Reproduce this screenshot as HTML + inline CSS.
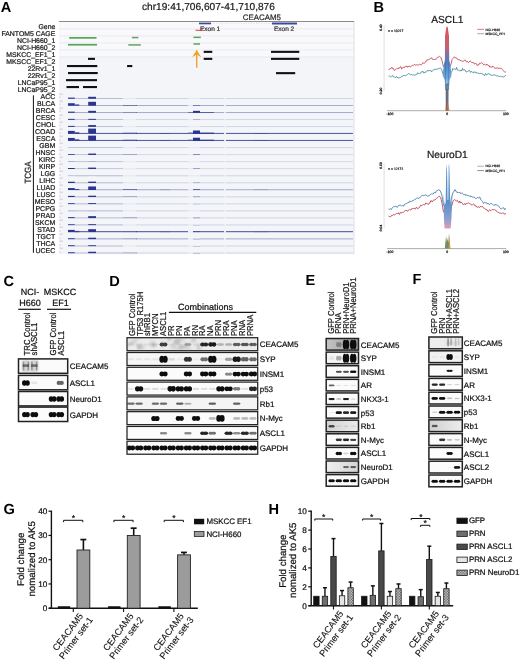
<!DOCTYPE html>
<html><head><meta charset="utf-8"><title>Figure</title>
<style>html,body{margin:0;padding:0;background:#fff;}svg{display:block;text-rendering:geometricPrecision;}</style></head>
<body><svg width="520" height="662" viewBox="0 0 520 662" font-family='"Liberation Sans", Arial, Helvetica, sans-serif'>
<rect width="520" height="662" fill="#fff"/>
<text transform="translate(0.8 12.3)" font-size="14.6" font-weight="bold" fill="#000">A</text>
<text transform="translate(373.4 12.4)" font-size="14.6" font-weight="bold" fill="#000">B</text>
<text transform="translate(3.4 285.6)" font-size="14.6" font-weight="bold" fill="#000">C</text>
<text transform="translate(109.2 285.5)" font-size="14.6" font-weight="bold" fill="#000">D</text>
<text transform="translate(305.4 285)" font-size="14.6" font-weight="bold" fill="#000">E</text>
<text transform="translate(412.4 284.3)" font-size="14.6" font-weight="bold" fill="#000">F</text>
<text transform="translate(3.4 514)" font-size="14.6" font-weight="bold" fill="#000">G</text>
<text transform="translate(268.6 514)" font-size="14.6" font-weight="bold" fill="#000">H</text>
<rect x="59" y="21.5" width="295" height="232.74" fill="#f9f9fc"/>
<rect x="59" y="56.68" width="295" height="197.56" fill="#f4f5f9"/>
<line x1="59" y1="28.9" x2="354" y2="28.9" stroke="#e4e5ec" stroke-width="0.7"/>
<line x1="59" y1="35.92" x2="354" y2="35.92" stroke="#e4e5ec" stroke-width="0.7"/>
<line x1="59" y1="42.94" x2="354" y2="42.94" stroke="#e4e5ec" stroke-width="0.7"/>
<line x1="59" y1="49.96" x2="354" y2="49.96" stroke="#e4e5ec" stroke-width="0.7"/>
<line x1="59" y1="56.98" x2="354" y2="56.98" stroke="#e4e5ec" stroke-width="0.7"/>
<line x1="354" y1="21.5" x2="354" y2="254.24" stroke="#d8d8de" stroke-width="0.8"/>
<line x1="59" y1="21.5" x2="354" y2="21.5" stroke="#8a8a8a" stroke-width="1.1"/>
<text x="142" y="10.4" font-size="10.15" fill="#1a1a1a" stroke="#1a1a1a" stroke-width="0.22">chr19:41,706,607-41,710,876</text>
<text x="242.8" y="19.7" font-size="7.9" fill="#2a2a2a" stroke="#2a2a2a" stroke-width="0.22">CEACAM5</text>
<line x1="211" y1="23.4" x2="272" y2="23.4" stroke="#c4c6d4" stroke-width="0.5" stroke-dasharray="1 1.5"/>
<rect x="199" y="22.6" width="12" height="1.7" fill="#3b4a9c"/>
<rect x="272" y="22.5" width="25" height="2" fill="#3b4a9c"/>
<text x="200" y="30.7" font-size="6.5" fill="#333" stroke="#333" stroke-width="0.22">Exon 1</text>
<text x="274" y="30.7" font-size="6.5" fill="#333" stroke="#333" stroke-width="0.22">Exon 2</text>
<line x1="195.5" y1="30.3" x2="202" y2="30.3" stroke="#d03030" stroke-width="0.9"/>
<line x1="202" y1="28.3" x2="202" y2="30.5" stroke="#d03030" stroke-width="0.8"/>
<text x="55.3" y="28.6" font-size="6.9" text-anchor="end" fill="#1a1a1a" stroke="#1a1a1a" stroke-width="0.22">Gene</text>
<text x="55.3" y="35.62" font-size="6.9" text-anchor="end" fill="#1a1a1a" stroke="#1a1a1a" stroke-width="0.22">FANTOM5 CAGE</text>
<text x="55.3" y="42.64" font-size="6.9" text-anchor="end" fill="#1a1a1a" stroke="#1a1a1a" stroke-width="0.22">NCI-H660_1</text>
<text x="55.3" y="49.66" font-size="6.9" text-anchor="end" fill="#1a1a1a" stroke="#1a1a1a" stroke-width="0.22">NCI-H660_2</text>
<text x="55.3" y="56.68" font-size="6.9" text-anchor="end" fill="#1a1a1a" stroke="#1a1a1a" stroke-width="0.22">MSKCC_EF1_1</text>
<text x="55.3" y="63.7" font-size="6.9" text-anchor="end" fill="#1a1a1a" stroke="#1a1a1a" stroke-width="0.22">MKSCC_EF1_2</text>
<text x="55.3" y="70.72" font-size="6.9" text-anchor="end" fill="#1a1a1a" stroke="#1a1a1a" stroke-width="0.22">22Rv1_1</text>
<text x="55.3" y="77.74" font-size="6.9" text-anchor="end" fill="#1a1a1a" stroke="#1a1a1a" stroke-width="0.22">22Rv1_2</text>
<text x="55.3" y="84.76" font-size="6.9" text-anchor="end" fill="#1a1a1a" stroke="#1a1a1a" stroke-width="0.22">LNCaP95_1</text>
<text x="55.3" y="91.78" font-size="6.9" text-anchor="end" fill="#1a1a1a" stroke="#1a1a1a" stroke-width="0.22">LNCaP95_2</text>
<text x="55.3" y="98.8" font-size="7" text-anchor="end" fill="#1a1a1a" stroke="#1a1a1a" stroke-width="0.22">ACC</text>
<text x="55.3" y="105.82" font-size="7" text-anchor="end" fill="#1a1a1a" stroke="#1a1a1a" stroke-width="0.22">BLCA</text>
<text x="55.3" y="112.84" font-size="7" text-anchor="end" fill="#1a1a1a" stroke="#1a1a1a" stroke-width="0.22">BRCA</text>
<text x="55.3" y="119.86" font-size="7" text-anchor="end" fill="#1a1a1a" stroke="#1a1a1a" stroke-width="0.22">CESC</text>
<text x="55.3" y="126.88" font-size="7" text-anchor="end" fill="#1a1a1a" stroke="#1a1a1a" stroke-width="0.22">CHOL</text>
<text x="55.3" y="133.9" font-size="7" text-anchor="end" fill="#1a1a1a" stroke="#1a1a1a" stroke-width="0.22">COAD</text>
<text x="55.3" y="140.92" font-size="7" text-anchor="end" fill="#1a1a1a" stroke="#1a1a1a" stroke-width="0.22">ESCA</text>
<text x="55.3" y="147.94" font-size="7" text-anchor="end" fill="#1a1a1a" stroke="#1a1a1a" stroke-width="0.22">GBM</text>
<text x="55.3" y="154.96" font-size="7" text-anchor="end" fill="#1a1a1a" stroke="#1a1a1a" stroke-width="0.22">HNSC</text>
<text x="55.3" y="161.98" font-size="7" text-anchor="end" fill="#1a1a1a" stroke="#1a1a1a" stroke-width="0.22">KIRC</text>
<text x="55.3" y="169" font-size="7" text-anchor="end" fill="#1a1a1a" stroke="#1a1a1a" stroke-width="0.22">KIRP</text>
<text x="55.3" y="176.02" font-size="7" text-anchor="end" fill="#1a1a1a" stroke="#1a1a1a" stroke-width="0.22">LGG</text>
<text x="55.3" y="183.04" font-size="7" text-anchor="end" fill="#1a1a1a" stroke="#1a1a1a" stroke-width="0.22">LIHC</text>
<text x="55.3" y="190.06" font-size="7" text-anchor="end" fill="#1a1a1a" stroke="#1a1a1a" stroke-width="0.22">LUAD</text>
<text x="55.3" y="197.08" font-size="7" text-anchor="end" fill="#1a1a1a" stroke="#1a1a1a" stroke-width="0.22">LUSC</text>
<text x="55.3" y="204.1" font-size="7" text-anchor="end" fill="#1a1a1a" stroke="#1a1a1a" stroke-width="0.22">MESO</text>
<text x="55.3" y="211.12" font-size="7" text-anchor="end" fill="#1a1a1a" stroke="#1a1a1a" stroke-width="0.22">PCPG</text>
<text x="55.3" y="218.14" font-size="7" text-anchor="end" fill="#1a1a1a" stroke="#1a1a1a" stroke-width="0.22">PRAD</text>
<text x="55.3" y="225.16" font-size="7" text-anchor="end" fill="#1a1a1a" stroke="#1a1a1a" stroke-width="0.22">SKCM</text>
<text x="55.3" y="232.18" font-size="7" text-anchor="end" fill="#1a1a1a" stroke="#1a1a1a" stroke-width="0.22">STAD</text>
<text x="55.3" y="239.2" font-size="7" text-anchor="end" fill="#1a1a1a" stroke="#1a1a1a" stroke-width="0.22">TGCT</text>
<text x="55.3" y="246.22" font-size="7" text-anchor="end" fill="#1a1a1a" stroke="#1a1a1a" stroke-width="0.22">THCA</text>
<text x="55.3" y="253.24" font-size="7" text-anchor="end" fill="#1a1a1a" stroke="#1a1a1a" stroke-width="0.22">UCEC</text>
<line x1="33.4" y1="95.3" x2="33.4" y2="252.8" stroke="#111" stroke-width="1"/>
<text transform="translate(30.9 172.5) rotate(-90) scale(0.885 1)" font-size="9" text-anchor="middle" fill="#222" stroke="#222" stroke-width="0.22">TCGA</text>
<rect x="69.2" y="37" width="27.3" height="1.7" fill="#5aa45a"/>
<rect x="68" y="43.9" width="29" height="1.7" fill="#5aa45a"/>
<rect x="131.9" y="36.8" width="6.5" height="1.5" fill="#6c9c6c"/>
<rect x="128.3" y="44.1" width="12.5" height="1.6" fill="#6ca86c"/>
<rect x="193.4" y="36.6" width="7.4" height="1.5" fill="#5aa45a"/>
<rect x="193.4" y="43.2" width="6.6" height="1.5" fill="#5aa45a"/>
<rect x="203.7" y="50.8" width="8.6" height="2.1" fill="#111"/>
<rect x="271" y="50.8" width="28.3" height="2.1" fill="#111"/>
<rect x="88" y="57.8" width="7" height="2.1" fill="#111"/>
<rect x="203.7" y="57.8" width="8.6" height="2.1" fill="#111"/>
<rect x="271" y="57.8" width="28.3" height="2.1" fill="#111"/>
<rect x="67" y="65" width="30.3" height="2.1" fill="#111"/>
<rect x="127.1" y="65" width="5.2" height="2.1" fill="#111"/>
<rect x="68" y="72" width="29.7" height="2.1" fill="#111"/>
<rect x="276" y="72.1" width="19.2" height="2.1" fill="#111"/>
<rect x="66" y="79.1" width="31" height="2.1" fill="#111"/>
<rect x="66.5" y="86" width="12.5" height="2.1" fill="#111"/>
<rect x="83" y="86" width="14" height="2.1" fill="#111"/>
<path d="M196.7 67.8 L196.7 53" stroke="#f2a02a" stroke-width="1.4" fill="none"/>
<path d="M192.2 57.2 L196.7 49.8 L201.2 57.2 L196.7 54.6 Z" fill="#f2a02a"/>
<text x="59.6" y="94.5" font-size="1.9" fill="#999">200</text>
<text x="59.6" y="98.4" font-size="1.9" fill="#999">0</text>
<line x1="68" y1="98.55" x2="353" y2="98.55" stroke="#d8dae6" stroke-width="0.5"/>
<line x1="74.8" y1="98.55" x2="88.2" y2="98.55" stroke="#2f3890" stroke-width="0.5" opacity="0.5"/>
<line x1="96" y1="98.55" x2="123" y2="98.55" stroke="#2f3890" stroke-width="0.5" opacity="0.5"/>
<line x1="136" y1="98.55" x2="188" y2="98.55" stroke="#2f3890" stroke-width="0.5" opacity="0.22"/>
<line x1="200" y1="98.55" x2="224" y2="98.55" stroke="#2f3890" stroke-width="0.5" opacity="0.22"/>
<line x1="226" y1="98.55" x2="353" y2="98.55" stroke="#2f3890" stroke-width="0.5" opacity="0.22"/>
<rect x="68" y="97.6" width="6.8" height="1.2" fill="#2b3590"/>
<rect x="88.2" y="96.8" width="7.8" height="2" fill="#2b3590"/>
<text x="59.6" y="101.52" font-size="1.9" fill="#999">200</text>
<text x="59.6" y="105.42" font-size="1.9" fill="#999">0</text>
<line x1="68" y1="105.57" x2="353" y2="105.57" stroke="#d8dae6" stroke-width="0.5"/>
<line x1="74.8" y1="105.47" x2="88.2" y2="105.47" stroke="#2f3890" stroke-width="0.7" opacity="0.5"/>
<line x1="96" y1="105.47" x2="123" y2="105.47" stroke="#2f3890" stroke-width="0.7" opacity="0.5"/>
<line x1="136" y1="105.47" x2="188" y2="105.47" stroke="#2f3890" stroke-width="0.7" opacity="0.5"/>
<line x1="200" y1="105.47" x2="224" y2="105.47" stroke="#2f3890" stroke-width="0.7" opacity="0.5"/>
<line x1="226" y1="105.47" x2="353" y2="105.47" stroke="#2f3890" stroke-width="0.7" opacity="0.5"/>
<rect x="68" y="103.22" width="6.8" height="2.6" fill="#2b3590"/>
<rect x="74.8" y="104.39" width="4.5" height="1.43" fill="#2b3590" opacity="0.85"/>
<rect x="88.2" y="101.82" width="7.8" height="4" fill="#2b3590"/>
<rect x="193" y="105.22" width="7" height="0.6" fill="#2b3590"/>
<rect x="123" y="105.12" width="14" height="0.7" fill="#2f3890" opacity="0.9"/>
<text x="59.6" y="108.54" font-size="1.9" fill="#999">200</text>
<text x="59.6" y="112.44" font-size="1.9" fill="#999">0</text>
<line x1="68" y1="112.59" x2="353" y2="112.59" stroke="#d8dae6" stroke-width="0.5"/>
<line x1="74.8" y1="112.49" x2="88.2" y2="112.49" stroke="#2f3890" stroke-width="0.7" opacity="0.5"/>
<line x1="96" y1="112.49" x2="123" y2="112.49" stroke="#2f3890" stroke-width="0.7" opacity="0.5"/>
<line x1="136" y1="112.49" x2="188" y2="112.49" stroke="#2f3890" stroke-width="0.7" opacity="0.5"/>
<line x1="200" y1="112.49" x2="224" y2="112.49" stroke="#2f3890" stroke-width="0.7" opacity="0.5"/>
<line x1="226" y1="112.49" x2="353" y2="112.49" stroke="#2f3890" stroke-width="0.7" opacity="0.5"/>
<rect x="68" y="111.64" width="6.8" height="1.2" fill="#2b3590"/>
<rect x="88.2" y="110.84" width="7.8" height="2" fill="#2b3590"/>
<rect x="193" y="110.84" width="7" height="2" fill="#2b3590"/>
<rect x="188" y="112.04" width="26" height="0.8" fill="#2b3590" opacity="0.8"/>
<rect x="123" y="112.14" width="14" height="0.7" fill="#2f3890" opacity="0.72"/>
<text x="59.6" y="115.56" font-size="1.9" fill="#999">200</text>
<text x="59.6" y="119.46" font-size="1.9" fill="#999">0</text>
<line x1="68" y1="119.61" x2="353" y2="119.61" stroke="#d8dae6" stroke-width="0.5"/>
<line x1="74.8" y1="119.61" x2="88.2" y2="119.61" stroke="#2f3890" stroke-width="0.5" opacity="0.5"/>
<line x1="96" y1="119.61" x2="123" y2="119.61" stroke="#2f3890" stroke-width="0.5" opacity="0.5"/>
<line x1="136" y1="119.61" x2="188" y2="119.61" stroke="#2f3890" stroke-width="0.5" opacity="0.22"/>
<line x1="200" y1="119.61" x2="224" y2="119.61" stroke="#2f3890" stroke-width="0.5" opacity="0.22"/>
<line x1="226" y1="119.61" x2="353" y2="119.61" stroke="#2f3890" stroke-width="0.5" opacity="0.22"/>
<rect x="68" y="118.86" width="6.8" height="1" fill="#2b3590"/>
<rect x="88.2" y="118.86" width="7.8" height="1" fill="#2b3590"/>
<rect x="193" y="119.56" width="7" height="0.3" fill="#2b3590"/>
<text x="59.6" y="122.58" font-size="1.9" fill="#999">200</text>
<text x="59.6" y="126.48" font-size="1.9" fill="#999">0</text>
<line x1="68" y1="126.63" x2="353" y2="126.63" stroke="#d8dae6" stroke-width="0.5"/>
<line x1="74.8" y1="126.63" x2="88.2" y2="126.63" stroke="#2f3890" stroke-width="0.5" opacity="0.5"/>
<line x1="96" y1="126.63" x2="123" y2="126.63" stroke="#2f3890" stroke-width="0.5" opacity="0.5"/>
<line x1="136" y1="126.63" x2="188" y2="126.63" stroke="#2f3890" stroke-width="0.5" opacity="0.22"/>
<line x1="200" y1="126.63" x2="224" y2="126.63" stroke="#2f3890" stroke-width="0.5" opacity="0.22"/>
<line x1="226" y1="126.63" x2="353" y2="126.63" stroke="#2f3890" stroke-width="0.5" opacity="0.22"/>
<rect x="68" y="125.88" width="6.8" height="1" fill="#2b3590"/>
<rect x="88.2" y="125.08" width="7.8" height="1.8" fill="#2b3590"/>
<text x="59.6" y="129.6" font-size="1.9" fill="#999">200</text>
<text x="59.6" y="133.5" font-size="1.9" fill="#999">0</text>
<line x1="68" y1="133.65" x2="353" y2="133.65" stroke="#d8dae6" stroke-width="0.5"/>
<line x1="74.8" y1="133.4" x2="88.2" y2="133.4" stroke="#2f3890" stroke-width="1" opacity="0.85"/>
<line x1="96" y1="133.4" x2="123" y2="133.4" stroke="#2f3890" stroke-width="1" opacity="0.85"/>
<line x1="136" y1="133.4" x2="188" y2="133.4" stroke="#2f3890" stroke-width="1" opacity="0.85"/>
<line x1="200" y1="133.4" x2="224" y2="133.4" stroke="#2f3890" stroke-width="1" opacity="0.85"/>
<line x1="226" y1="133.4" x2="353" y2="133.4" stroke="#2f3890" stroke-width="1" opacity="0.85"/>
<rect x="68" y="130.9" width="6.8" height="3" fill="#2b3590"/>
<rect x="74.8" y="132.25" width="4.5" height="1.65" fill="#2b3590" opacity="0.85"/>
<rect x="88.2" y="128.6" width="7.8" height="5.3" fill="#2b3590"/>
<rect x="193" y="130.5" width="7" height="3.4" fill="#2b3590"/>
<rect x="188" y="132.54" width="26" height="1.36" fill="#2b3590" opacity="0.8"/>
<rect x="123" y="132.7" width="14" height="1.2" fill="#2f3890" opacity="0.9"/>
<rect x="160" y="133.2" width="10" height="0.7" fill="#2f3890" opacity="0.45"/>
<rect x="254" y="133.3" width="14" height="0.6" fill="#2f3890" opacity="0.45"/>
<text x="59.6" y="136.62" font-size="1.9" fill="#999">200</text>
<text x="59.6" y="140.52" font-size="1.9" fill="#999">0</text>
<line x1="68" y1="140.67" x2="353" y2="140.67" stroke="#d8dae6" stroke-width="0.5"/>
<line x1="74.8" y1="140.42" x2="88.2" y2="140.42" stroke="#2f3890" stroke-width="1" opacity="0.85"/>
<line x1="96" y1="140.42" x2="123" y2="140.42" stroke="#2f3890" stroke-width="1" opacity="0.85"/>
<line x1="136" y1="140.42" x2="188" y2="140.42" stroke="#2f3890" stroke-width="1" opacity="0.85"/>
<line x1="200" y1="140.42" x2="224" y2="140.42" stroke="#2f3890" stroke-width="1" opacity="0.85"/>
<line x1="226" y1="140.42" x2="353" y2="140.42" stroke="#2f3890" stroke-width="1" opacity="0.85"/>
<rect x="68" y="137.92" width="6.8" height="3" fill="#2b3590"/>
<rect x="74.8" y="139.27" width="4.5" height="1.65" fill="#2b3590" opacity="0.85"/>
<rect x="88.2" y="135.62" width="7.8" height="5.3" fill="#2b3590"/>
<rect x="193" y="137.72" width="7" height="3.2" fill="#2b3590"/>
<rect x="188" y="139.64" width="26" height="1.28" fill="#2b3590" opacity="0.8"/>
<rect x="123" y="139.72" width="14" height="1.2" fill="#2f3890" opacity="0.9"/>
<rect x="160" y="140.22" width="10" height="0.7" fill="#2f3890" opacity="0.45"/>
<rect x="254" y="140.32" width="14" height="0.6" fill="#2f3890" opacity="0.45"/>
<text x="59.6" y="143.64" font-size="1.9" fill="#999">200</text>
<text x="59.6" y="147.54" font-size="1.9" fill="#999">0</text>
<line x1="68" y1="147.69" x2="353" y2="147.69" stroke="#d8dae6" stroke-width="0.5"/>
<line x1="74.8" y1="147.69" x2="88.2" y2="147.69" stroke="#2f3890" stroke-width="0.5" opacity="0.5"/>
<line x1="96" y1="147.69" x2="123" y2="147.69" stroke="#2f3890" stroke-width="0.5" opacity="0.5"/>
<line x1="136" y1="147.69" x2="188" y2="147.69" stroke="#2f3890" stroke-width="0.5" opacity="0.22"/>
<line x1="200" y1="147.69" x2="224" y2="147.69" stroke="#2f3890" stroke-width="0.5" opacity="0.22"/>
<line x1="226" y1="147.69" x2="353" y2="147.69" stroke="#2f3890" stroke-width="0.5" opacity="0.22"/>
<rect x="68" y="147.74" width="6.8" height="0.2" fill="#2b3590"/>
<rect x="88.2" y="147.74" width="7.8" height="0.2" fill="#2b3590"/>
<text x="59.6" y="150.66" font-size="1.9" fill="#999">200</text>
<text x="59.6" y="154.56" font-size="1.9" fill="#999">0</text>
<line x1="68" y1="154.71" x2="353" y2="154.71" stroke="#d8dae6" stroke-width="0.5"/>
<line x1="74.8" y1="154.71" x2="88.2" y2="154.71" stroke="#2f3890" stroke-width="0.5" opacity="0.5"/>
<line x1="96" y1="154.71" x2="123" y2="154.71" stroke="#2f3890" stroke-width="0.5" opacity="0.5"/>
<line x1="136" y1="154.71" x2="188" y2="154.71" stroke="#2f3890" stroke-width="0.5" opacity="0.22"/>
<line x1="200" y1="154.71" x2="224" y2="154.71" stroke="#2f3890" stroke-width="0.5" opacity="0.22"/>
<line x1="226" y1="154.71" x2="353" y2="154.71" stroke="#2f3890" stroke-width="0.5" opacity="0.22"/>
<rect x="68" y="154.16" width="6.8" height="0.8" fill="#2b3590"/>
<rect x="88.2" y="153.56" width="7.8" height="1.4" fill="#2b3590"/>
<rect x="193" y="154.46" width="7" height="0.5" fill="#2b3590"/>
<rect x="123" y="154.36" width="14" height="0.6" fill="#2f3890" opacity="0.62"/>
<text x="59.6" y="157.68" font-size="1.9" fill="#999">200</text>
<text x="59.6" y="161.58" font-size="1.9" fill="#999">0</text>
<line x1="68" y1="161.73" x2="353" y2="161.73" stroke="#d8dae6" stroke-width="0.5"/>
<line x1="74.8" y1="161.73" x2="88.2" y2="161.73" stroke="#2f3890" stroke-width="0.5" opacity="0.5"/>
<line x1="96" y1="161.73" x2="123" y2="161.73" stroke="#2f3890" stroke-width="0.5" opacity="0.5"/>
<line x1="136" y1="161.73" x2="188" y2="161.73" stroke="#2f3890" stroke-width="0.5" opacity="0.22"/>
<line x1="200" y1="161.73" x2="224" y2="161.73" stroke="#2f3890" stroke-width="0.5" opacity="0.22"/>
<line x1="226" y1="161.73" x2="353" y2="161.73" stroke="#2f3890" stroke-width="0.5" opacity="0.22"/>
<rect x="68" y="161.68" width="6.8" height="0.3" fill="#2b3590"/>
<rect x="88.2" y="161.68" width="7.8" height="0.3" fill="#2b3590"/>
<text x="59.6" y="164.7" font-size="1.9" fill="#999">200</text>
<text x="59.6" y="168.6" font-size="1.9" fill="#999">0</text>
<line x1="68" y1="168.75" x2="353" y2="168.75" stroke="#d8dae6" stroke-width="0.5"/>
<line x1="74.8" y1="168.75" x2="88.2" y2="168.75" stroke="#2f3890" stroke-width="0.5" opacity="0.5"/>
<line x1="96" y1="168.75" x2="123" y2="168.75" stroke="#2f3890" stroke-width="0.5" opacity="0.5"/>
<line x1="136" y1="168.75" x2="188" y2="168.75" stroke="#2f3890" stroke-width="0.5" opacity="0.22"/>
<line x1="200" y1="168.75" x2="224" y2="168.75" stroke="#2f3890" stroke-width="0.5" opacity="0.22"/>
<line x1="226" y1="168.75" x2="353" y2="168.75" stroke="#2f3890" stroke-width="0.5" opacity="0.22"/>
<rect x="68" y="168" width="6.8" height="1" fill="#2b3590"/>
<rect x="88.2" y="167.6" width="7.8" height="1.4" fill="#2b3590"/>
<rect x="193" y="168.6" width="7" height="0.4" fill="#2b3590"/>
<text x="59.6" y="171.72" font-size="1.9" fill="#999">200</text>
<text x="59.6" y="175.62" font-size="1.9" fill="#999">0</text>
<line x1="68" y1="175.77" x2="353" y2="175.77" stroke="#d8dae6" stroke-width="0.5"/>
<line x1="74.8" y1="175.77" x2="88.2" y2="175.77" stroke="#2f3890" stroke-width="0.5" opacity="0.5"/>
<line x1="96" y1="175.77" x2="123" y2="175.77" stroke="#2f3890" stroke-width="0.5" opacity="0.5"/>
<line x1="136" y1="175.77" x2="188" y2="175.77" stroke="#2f3890" stroke-width="0.5" opacity="0.22"/>
<line x1="200" y1="175.77" x2="224" y2="175.77" stroke="#2f3890" stroke-width="0.5" opacity="0.22"/>
<line x1="226" y1="175.77" x2="353" y2="175.77" stroke="#2f3890" stroke-width="0.5" opacity="0.22"/>
<rect x="68" y="175.82" width="6.8" height="0.2" fill="#2b3590"/>
<rect x="88.2" y="175.82" width="7.8" height="0.2" fill="#2b3590"/>
<text x="59.6" y="178.74" font-size="1.9" fill="#999">200</text>
<text x="59.6" y="182.64" font-size="1.9" fill="#999">0</text>
<line x1="68" y1="182.79" x2="353" y2="182.79" stroke="#d8dae6" stroke-width="0.5"/>
<line x1="74.8" y1="182.79" x2="88.2" y2="182.79" stroke="#2f3890" stroke-width="0.5" opacity="0.5"/>
<line x1="96" y1="182.79" x2="123" y2="182.79" stroke="#2f3890" stroke-width="0.5" opacity="0.5"/>
<line x1="136" y1="182.79" x2="188" y2="182.79" stroke="#2f3890" stroke-width="0.5" opacity="0.22"/>
<line x1="200" y1="182.79" x2="224" y2="182.79" stroke="#2f3890" stroke-width="0.5" opacity="0.22"/>
<line x1="226" y1="182.79" x2="353" y2="182.79" stroke="#2f3890" stroke-width="0.5" opacity="0.22"/>
<rect x="68" y="181.74" width="6.8" height="1.3" fill="#2b3590"/>
<rect x="88.2" y="181.64" width="7.8" height="1.4" fill="#2b3590"/>
<rect x="193" y="182.74" width="7" height="0.3" fill="#2b3590"/>
<text x="59.6" y="185.76" font-size="1.9" fill="#999">200</text>
<text x="59.6" y="189.66" font-size="1.9" fill="#999">0</text>
<line x1="68" y1="189.81" x2="353" y2="189.81" stroke="#d8dae6" stroke-width="0.5"/>
<line x1="74.8" y1="189.71" x2="88.2" y2="189.71" stroke="#2f3890" stroke-width="0.7" opacity="0.5"/>
<line x1="96" y1="189.71" x2="123" y2="189.71" stroke="#2f3890" stroke-width="0.7" opacity="0.5"/>
<line x1="136" y1="189.71" x2="188" y2="189.71" stroke="#2f3890" stroke-width="0.7" opacity="0.5"/>
<line x1="200" y1="189.71" x2="224" y2="189.71" stroke="#2f3890" stroke-width="0.7" opacity="0.5"/>
<line x1="226" y1="189.71" x2="353" y2="189.71" stroke="#2f3890" stroke-width="0.7" opacity="0.5"/>
<rect x="68" y="188.06" width="6.8" height="2" fill="#2b3590"/>
<rect x="74.8" y="188.96" width="4.5" height="1.1" fill="#2b3590" opacity="0.85"/>
<rect x="88.2" y="186.46" width="7.8" height="3.6" fill="#2b3590"/>
<rect x="193" y="189.26" width="7" height="0.8" fill="#2b3590"/>
<rect x="123" y="189.26" width="14" height="0.8" fill="#2f3890" opacity="0.9"/>
<rect x="160" y="189.64" width="10" height="0.42" fill="#2f3890" opacity="0.45"/>
<rect x="254" y="189.7" width="14" height="0.36" fill="#2f3890" opacity="0.45"/>
<text x="59.6" y="192.78" font-size="1.9" fill="#999">200</text>
<text x="59.6" y="196.68" font-size="1.9" fill="#999">0</text>
<line x1="68" y1="196.83" x2="353" y2="196.83" stroke="#d8dae6" stroke-width="0.5"/>
<line x1="74.8" y1="196.83" x2="88.2" y2="196.83" stroke="#2f3890" stroke-width="0.5" opacity="0.5"/>
<line x1="96" y1="196.83" x2="123" y2="196.83" stroke="#2f3890" stroke-width="0.5" opacity="0.5"/>
<line x1="136" y1="196.83" x2="188" y2="196.83" stroke="#2f3890" stroke-width="0.5" opacity="0.22"/>
<line x1="200" y1="196.83" x2="224" y2="196.83" stroke="#2f3890" stroke-width="0.5" opacity="0.22"/>
<line x1="226" y1="196.83" x2="353" y2="196.83" stroke="#2f3890" stroke-width="0.5" opacity="0.22"/>
<rect x="68" y="195.88" width="6.8" height="1.2" fill="#2b3590"/>
<rect x="88.2" y="195.68" width="7.8" height="1.4" fill="#2b3590"/>
<rect x="193" y="196.68" width="7" height="0.4" fill="#2b3590"/>
<rect x="123" y="196.48" width="14" height="0.6" fill="#2f3890" opacity="0.66"/>
<text x="59.6" y="199.8" font-size="1.9" fill="#999">200</text>
<text x="59.6" y="203.7" font-size="1.9" fill="#999">0</text>
<line x1="68" y1="203.85" x2="353" y2="203.85" stroke="#d8dae6" stroke-width="0.5"/>
<line x1="74.8" y1="203.85" x2="88.2" y2="203.85" stroke="#2f3890" stroke-width="0.5" opacity="0.5"/>
<line x1="96" y1="203.85" x2="123" y2="203.85" stroke="#2f3890" stroke-width="0.5" opacity="0.5"/>
<line x1="136" y1="203.85" x2="188" y2="203.85" stroke="#2f3890" stroke-width="0.5" opacity="0.22"/>
<line x1="200" y1="203.85" x2="224" y2="203.85" stroke="#2f3890" stroke-width="0.5" opacity="0.22"/>
<line x1="226" y1="203.85" x2="353" y2="203.85" stroke="#2f3890" stroke-width="0.5" opacity="0.22"/>
<rect x="68" y="203.2" width="6.8" height="0.9" fill="#2b3590"/>
<rect x="88.2" y="203.1" width="7.8" height="1" fill="#2b3590"/>
<rect x="193" y="203.9" width="7" height="0.2" fill="#2b3590"/>
<text x="59.6" y="206.82" font-size="1.9" fill="#999">200</text>
<text x="59.6" y="210.72" font-size="1.9" fill="#999">0</text>
<line x1="68" y1="210.87" x2="353" y2="210.87" stroke="#d8dae6" stroke-width="0.5"/>
<line x1="74.8" y1="210.87" x2="88.2" y2="210.87" stroke="#2f3890" stroke-width="0.5" opacity="0.5"/>
<line x1="96" y1="210.87" x2="123" y2="210.87" stroke="#2f3890" stroke-width="0.5" opacity="0.5"/>
<line x1="136" y1="210.87" x2="188" y2="210.87" stroke="#2f3890" stroke-width="0.5" opacity="0.22"/>
<line x1="200" y1="210.87" x2="224" y2="210.87" stroke="#2f3890" stroke-width="0.5" opacity="0.22"/>
<line x1="226" y1="210.87" x2="353" y2="210.87" stroke="#2f3890" stroke-width="0.5" opacity="0.22"/>
<rect x="68" y="210.82" width="6.8" height="0.3" fill="#2b3590"/>
<rect x="88.2" y="210.82" width="7.8" height="0.3" fill="#2b3590"/>
<text x="59.6" y="213.84" font-size="1.9" fill="#999">200</text>
<text x="59.6" y="217.74" font-size="1.9" fill="#999">0</text>
<line x1="68" y1="217.89" x2="353" y2="217.89" stroke="#d8dae6" stroke-width="0.5"/>
<line x1="74.8" y1="217.89" x2="88.2" y2="217.89" stroke="#2f3890" stroke-width="0.5" opacity="0.5"/>
<line x1="96" y1="217.89" x2="123" y2="217.89" stroke="#2f3890" stroke-width="0.5" opacity="0.5"/>
<line x1="136" y1="217.89" x2="188" y2="217.89" stroke="#2f3890" stroke-width="0.5" opacity="0.22"/>
<line x1="200" y1="217.89" x2="224" y2="217.89" stroke="#2f3890" stroke-width="0.5" opacity="0.22"/>
<line x1="226" y1="217.89" x2="353" y2="217.89" stroke="#2f3890" stroke-width="0.5" opacity="0.22"/>
<rect x="68" y="217.14" width="6.8" height="1" fill="#2b3590"/>
<rect x="88.2" y="216.14" width="7.8" height="2" fill="#2b3590"/>
<rect x="193" y="217.74" width="7" height="0.4" fill="#2b3590"/>
<rect x="123" y="217.54" width="14" height="0.6" fill="#2f3890" opacity="0.7"/>
<text x="59.6" y="220.86" font-size="1.9" fill="#999">200</text>
<text x="59.6" y="224.76" font-size="1.9" fill="#999">0</text>
<line x1="68" y1="224.91" x2="353" y2="224.91" stroke="#d8dae6" stroke-width="0.5"/>
<line x1="74.8" y1="224.91" x2="88.2" y2="224.91" stroke="#2f3890" stroke-width="0.5" opacity="0.5"/>
<line x1="96" y1="224.91" x2="123" y2="224.91" stroke="#2f3890" stroke-width="0.5" opacity="0.5"/>
<line x1="136" y1="224.91" x2="188" y2="224.91" stroke="#2f3890" stroke-width="0.5" opacity="0.22"/>
<line x1="200" y1="224.91" x2="224" y2="224.91" stroke="#2f3890" stroke-width="0.5" opacity="0.22"/>
<line x1="226" y1="224.91" x2="353" y2="224.91" stroke="#2f3890" stroke-width="0.5" opacity="0.22"/>
<rect x="68" y="224.26" width="6.8" height="0.9" fill="#2b3590"/>
<rect x="88.2" y="224.16" width="7.8" height="1" fill="#2b3590"/>
<rect x="193" y="224.96" width="7" height="0.2" fill="#2b3590"/>
<text x="59.6" y="227.88" font-size="1.9" fill="#999">200</text>
<text x="59.6" y="231.78" font-size="1.9" fill="#999">0</text>
<line x1="68" y1="231.93" x2="353" y2="231.93" stroke="#d8dae6" stroke-width="0.5"/>
<line x1="74.8" y1="231.68" x2="88.2" y2="231.68" stroke="#2f3890" stroke-width="1" opacity="0.85"/>
<line x1="96" y1="231.68" x2="123" y2="231.68" stroke="#2f3890" stroke-width="1" opacity="0.85"/>
<line x1="136" y1="231.68" x2="188" y2="231.68" stroke="#2f3890" stroke-width="1" opacity="0.85"/>
<line x1="200" y1="231.68" x2="224" y2="231.68" stroke="#2f3890" stroke-width="1" opacity="0.85"/>
<line x1="226" y1="231.68" x2="353" y2="231.68" stroke="#2f3890" stroke-width="1" opacity="0.85"/>
<rect x="68" y="229.88" width="6.8" height="2.3" fill="#2b3590"/>
<rect x="74.8" y="230.91" width="4.5" height="1.26" fill="#2b3590" opacity="0.85"/>
<rect x="88.2" y="229.18" width="7.8" height="3" fill="#2b3590"/>
<rect x="193" y="231.18" width="7" height="1" fill="#2b3590"/>
<rect x="123" y="231.18" width="14" height="1" fill="#2f3890" opacity="0.9"/>
<rect x="160" y="231.62" width="10" height="0.56" fill="#2f3890" opacity="0.45"/>
<rect x="254" y="231.7" width="14" height="0.48" fill="#2f3890" opacity="0.45"/>
<text x="59.6" y="234.9" font-size="1.9" fill="#999">200</text>
<text x="59.6" y="238.8" font-size="1.9" fill="#999">0</text>
<line x1="68" y1="238.95" x2="353" y2="238.95" stroke="#d8dae6" stroke-width="0.5"/>
<line x1="74.8" y1="238.85" x2="88.2" y2="238.85" stroke="#2f3890" stroke-width="0.7" opacity="0.5"/>
<line x1="96" y1="238.85" x2="123" y2="238.85" stroke="#2f3890" stroke-width="0.7" opacity="0.5"/>
<line x1="136" y1="238.85" x2="188" y2="238.85" stroke="#2f3890" stroke-width="0.7" opacity="0.5"/>
<line x1="200" y1="238.85" x2="224" y2="238.85" stroke="#2f3890" stroke-width="0.7" opacity="0.5"/>
<line x1="226" y1="238.85" x2="353" y2="238.85" stroke="#2f3890" stroke-width="0.7" opacity="0.5"/>
<rect x="68" y="238.2" width="6.8" height="1" fill="#2b3590"/>
<rect x="88.2" y="237.7" width="7.8" height="1.5" fill="#2b3590"/>
<rect x="193" y="238.9" width="7" height="0.3" fill="#2b3590"/>
<rect x="123" y="238.5" width="14" height="0.7" fill="#2f3890" opacity="0.65"/>
<text x="59.6" y="241.92" font-size="1.9" fill="#999">200</text>
<text x="59.6" y="245.82" font-size="1.9" fill="#999">0</text>
<line x1="68" y1="245.97" x2="353" y2="245.97" stroke="#d8dae6" stroke-width="0.5"/>
<line x1="74.8" y1="245.97" x2="88.2" y2="245.97" stroke="#2f3890" stroke-width="0.5" opacity="0.5"/>
<line x1="96" y1="245.97" x2="123" y2="245.97" stroke="#2f3890" stroke-width="0.5" opacity="0.5"/>
<line x1="136" y1="245.97" x2="188" y2="245.97" stroke="#2f3890" stroke-width="0.5" opacity="0.22"/>
<line x1="200" y1="245.97" x2="224" y2="245.97" stroke="#2f3890" stroke-width="0.5" opacity="0.22"/>
<line x1="226" y1="245.97" x2="353" y2="245.97" stroke="#2f3890" stroke-width="0.5" opacity="0.22"/>
<rect x="68" y="245.22" width="6.8" height="1" fill="#2b3590"/>
<rect x="88.2" y="245.22" width="7.8" height="1" fill="#2b3590"/>
<rect x="193" y="246.02" width="7" height="0.2" fill="#2b3590"/>
<text x="59.6" y="248.94" font-size="1.9" fill="#999">200</text>
<text x="59.6" y="252.84" font-size="1.9" fill="#999">0</text>
<line x1="68" y1="252.99" x2="353" y2="252.99" stroke="#d8dae6" stroke-width="0.5"/>
<line x1="74.8" y1="252.99" x2="88.2" y2="252.99" stroke="#2f3890" stroke-width="0.5" opacity="0.5"/>
<line x1="96" y1="252.99" x2="123" y2="252.99" stroke="#2f3890" stroke-width="0.5" opacity="0.5"/>
<line x1="136" y1="252.99" x2="188" y2="252.99" stroke="#2f3890" stroke-width="0.5" opacity="0.22"/>
<line x1="200" y1="252.99" x2="224" y2="252.99" stroke="#2f3890" stroke-width="0.5" opacity="0.22"/>
<line x1="226" y1="252.99" x2="353" y2="252.99" stroke="#2f3890" stroke-width="0.5" opacity="0.22"/>
<rect x="68" y="252.24" width="6.8" height="1" fill="#2b3590"/>
<rect x="88.2" y="251.74" width="7.8" height="1.5" fill="#2b3590"/>
<rect x="193" y="252.94" width="7" height="0.3" fill="#2b3590"/>
<rect x="123" y="252.64" width="14" height="0.6" fill="#2f3890" opacity="0.65"/>
<defs><linearGradient id="sp1" x1="0" y1="0" x2="0" y2="1"><stop offset="0" stop-color="#d9545c"/><stop offset="0.3" stop-color="#c86070"/><stop offset="0.55" stop-color="#4f7fc0"/><stop offset="0.8" stop-color="#6aa6d8"/><stop offset="1" stop-color="#c0d8ee"/></linearGradient><linearGradient id="sp2" x1="0" y1="0" x2="0" y2="1"><stop offset="0" stop-color="#4a8ac8"/><stop offset="0.6" stop-color="#5b8fc8"/><stop offset="0.85" stop-color="#8aa0d0"/><stop offset="1" stop-color="#e29ab0"/></linearGradient><filter id="bl" x="-50%" y="-80%" width="200%" height="260%"><feGaussianBlur stdDeviation="0.45"/></filter><filter id="bl2" x="-50%" y="-80%" width="200%" height="260%"><feGaussianBlur stdDeviation="0.9"/></filter><pattern id="chk" width="1.6" height="1.6" patternUnits="userSpaceOnUse"><rect width="1.6" height="1.6" fill="#5c5c5c"/><rect width="0.8" height="0.8" fill="#363636"/><rect x="0.8" y="0.8" width="0.8" height="0.8" fill="#363636"/></pattern><pattern id="hatch" width="1.6" height="1.6" patternUnits="userSpaceOnUse"><rect width="1.6" height="1.6" fill="#dadada"/><rect width="0.8" height="0.8" fill="#5a5a5a"/><rect x="0.8" y="0.8" width="0.8" height="0.8" fill="#5a5a5a"/></pattern></defs>
<text x="431.2" y="22.7" font-size="10.2" fill="#1a1a1a" stroke="#1a1a1a" stroke-width="0.22">ASCL1</text>
<line x1="384.1" y1="25.4" x2="384.1" y2="90.8" stroke="#c8c8c8" stroke-width="0.6"/>
<line x1="387" y1="110.7" x2="506.3" y2="110.7" stroke="#888" stroke-width="0.7"/>
<text x="390" y="115.3" font-size="3.4" text-anchor="middle" fill="#111" stroke="#111" stroke-width="0.25">-100</text>
<text x="447.3" y="115.3" font-size="3.4" text-anchor="middle" fill="#111" stroke="#111" stroke-width="0.25">0</text>
<text x="505.8" y="115.3" font-size="3.4" text-anchor="middle" fill="#111" stroke="#111" stroke-width="0.25">100</text>
<text transform="translate(382.2 27.6) rotate(-90)" font-size="3.3" text-anchor="middle" fill="#111" stroke="#111" stroke-width="0.25">0.40</text>
<text transform="translate(382.2 91) rotate(-90)" font-size="3.3" text-anchor="middle" fill="#111" stroke="#111" stroke-width="0.25">0.20</text>
<text x="388.2" y="32.2" font-size="3.4" fill="#222" stroke="#222" stroke-width="0.2">n = 13217</text>
<line x1="477.3" y1="29.3" x2="484" y2="29.3" stroke="#cc3b45" stroke-width="0.7"/>
<line x1="477.3" y1="33.7" x2="484" y2="33.7" stroke="#5a8ab0" stroke-width="0.7"/>
<text x="485.4" y="30.5" font-size="3.3" fill="#222" stroke="#222" stroke-width="0.2">NCI-H660</text>
<text x="485.4" y="34.9" font-size="3.3" fill="#222" stroke="#222" stroke-width="0.2">MSKCC_EF1</text>
<path d="M388.5 69.84 L389.23 69.53 L389.96 68.4 L390.69 68.83 L391.42 67.69 L392.15 67.35 L392.88 68.87 L393.61 68.59 L394.34 70.57 L395.07 69.91 L395.8 69.5 L396.53 68.68 L397.26 68.47 L397.99 69.05 L398.72 67.76 L399.45 68.16 L400.18 66.91 L400.91 66.65 L401.64 69.06 L402.37 68.41 L403.1 67.35 L403.83 67.13 L404.56 67.74 L405.29 66.29 L406.02 66.65 L406.75 66.22 L407.48 67.36 L408.21 65.94 L408.94 66.81 L409.67 66.14 L410.4 66.96 L411.13 66.5 L411.86 65.55 L412.59 65.31 L413.32 65.54 L414.05 64.63 L414.78 64.25 L415.51 65.34 L416.24 64.75 L416.97 64.68 L417.7 65.16 L418.43 65.01 L419.16 64.57 L419.89 64.35 L420.62 64.63 L421.35 64.92 L422.08 64.2 L422.81 62.72 L423.54 63.02 L424.27 63.26 L425 62.68 L425.73 62.12 L426.46 60.31 L427.19 59.55 L427.92 60.4 L428.65 59.47 L429.38 59.21 L430.11 58.65 L430.84 58.65 L431.57 57.68 L432.3 59.2 L433.03 59.77 L433.76 59.22 L434.49 59.55 L435.22 59.17 L435.95 59.61 L436.68 58.44 L437.41 57.31 L438.14 57.07 L438.87 56.89 L439.6 56.35 L440.38 57.05 L441.16 57.94 L441.94 60.43 L442.72 63.77 L443.5 66.93" stroke="#c44a55" stroke-width="0.9" fill="none"/>
<path d="M450.5 65.99 L451.28 63.1 L452.06 59.45 L452.84 58.5 L453.62 57.45 L454.4 56.77 L455.14 57.84 L455.87 57.82 L456.61 57.96 L457.35 59.28 L458.09 59.89 L458.82 59.58 L459.56 59.62 L460.3 60.76 L461.03 60.24 L461.77 61.17 L462.51 61.19 L463.25 61.25 L463.98 60.77 L464.72 60.1 L465.46 60.01 L466.19 61.61 L466.93 61.91 L467.67 61.56 L468.41 62.65 L469.14 62.01 L469.88 61.17 L470.62 61.17 L471.35 61.84 L472.09 62.91 L472.83 62.52 L473.57 62.51 L474.3 63.93 L475.04 63.96 L475.78 63.31 L476.51 63.78 L477.25 65.64 L477.99 64.71 L478.73 65.01 L479.46 63.23 L480.2 63.4 L480.94 63.29 L481.67 62.63 L482.41 63.12 L483.15 63.96 L483.89 64.91 L484.62 64.36 L485.36 65.02 L486.1 65.13 L486.83 64.02 L487.57 64.76 L488.31 65.84 L489.05 65.35 L489.78 67.05 L490.52 67.02 L491.26 66.8 L491.99 67.4 L492.73 66.11 L493.47 66.64 L494.21 67.16 L494.94 68.56 L495.68 68.21 L496.42 68 L497.15 68.54 L497.89 67.63 L498.63 68.72 L499.37 68.3 L500.1 68.14 L500.84 68.49 L501.58 68.4 L502.31 69.42 L503.05 70.54 L503.79 71.22 L504.53 71.87 L505.26 72 L506 71.92" stroke="#c44a55" stroke-width="0.9" fill="none"/>
<path d="M388.5 76.2 L389.23 75.81 L389.96 76.53 L390.69 77.11 L391.42 76.43 L392.15 75.81 L392.88 75.66 L393.61 76.99 L394.34 76.81 L395.07 77.6 L395.8 77.15 L396.53 76.4 L397.26 77.82 L397.99 77.28 L398.72 78.13 L399.45 77.71 L400.18 77.71 L400.91 77 L401.64 76.44 L402.37 76.63 L403.1 75.58 L403.83 75.59 L404.56 75.55 L405.29 75.74 L406.02 75.62 L406.75 75.17 L407.48 74.31 L408.21 73.51 L408.94 73.77 L409.67 73.95 L410.4 74.8 L411.13 74.8 L411.86 74.46 L412.59 75.23 L413.32 74.72 L414.05 75.34 L414.78 74.91 L415.51 74.91 L416.24 74.56 L416.97 74.38 L417.7 72.81 L418.43 73.49 L419.16 73.26 L419.89 73.87 L420.62 73.2 L421.35 71.92 L422.08 71.87 L422.81 70.99 L423.54 72.89 L424.27 72.92 L425 71.79 L425.73 72.18 L426.46 71.75 L427.19 71.2 L427.92 70.05 L428.65 71.06 L429.38 70.55 L430.11 70.98 L430.84 70.28 L431.57 71.8 L432.3 70.91 L433.03 70.28 L433.76 69.65 L434.49 69.71 L435.22 68.89 L435.95 69.85 L436.68 69.09 L437.41 69 L438.14 68.73 L438.87 68.62 L439.6 68.28 L440.38 68.04 L441.16 68.57 L441.94 70.17 L442.72 73.24 L443.5 75" stroke="#4d8a9e" stroke-width="0.9" fill="none"/>
<path d="M450.5 75.06 L451.28 72.12 L452.06 71.13 L452.84 68.53 L453.62 69.37 L454.4 68.74 L455.14 69.26 L455.87 69.71 L456.61 67.32 L457.35 69.95 L458.09 70.3 L458.82 70.08 L459.56 70.64 L460.3 71.08 L461.03 69.96 L461.77 70.83 L462.51 68.32 L463.25 70.01 L463.98 69.98 L464.72 69.55 L465.46 70.87 L466.19 72.12 L466.93 71.49 L467.67 71.69 L468.41 70.85 L469.14 70.54 L469.88 70.65 L470.62 72.48 L471.35 71.38 L472.09 72.04 L472.83 72.34 L473.57 72.95 L474.3 71.69 L475.04 72.63 L475.78 71.97 L476.51 73.21 L477.25 72.65 L477.99 73.45 L478.73 73.28 L479.46 73.57 L480.2 73.37 L480.94 73.76 L481.67 73.25 L482.41 73.58 L483.15 74.85 L483.89 74.81 L484.62 75.6 L485.36 73.49 L486.1 74.8 L486.83 74.94 L487.57 73.88 L488.31 73.65 L489.05 74.21 L489.78 73.88 L490.52 75 L491.26 75.34 L491.99 75.05 L492.73 75.63 L493.47 74.68 L494.21 74.92 L494.94 75.17 L495.68 75.32 L496.42 75.92 L497.15 75.91 L497.89 75.88 L498.63 76.38 L499.37 76.65 L500.1 76.23 L500.84 76.12 L501.58 76.78 L502.31 76.62 L503.05 76.92 L503.79 76.85 L504.53 76.48 L505.26 75.54 L506 76.06" stroke="#4d8a9e" stroke-width="0.9" fill="none"/>
<path d="M442.8 76 L443.6 66 L444.9 60 L445 36 L446.3 27.5 L447 26.3 L447.8 27.5 L449 36 L449.2 60 L450.6 66 L451.4 76 L449.6 80 L448.9 90 L445.4 90 L444.7 80 Z" fill="url(#sp1)"/>
<path d="M445.6 62 L445.4 90 M448.4 62 L448.6 90" stroke="#2f5f9a" stroke-width="0.5" fill="none" opacity="0.8"/>
<path d="M446.2 84 L446.4 110.5 M447.9 83 L447.8 110.5" stroke="#30343c" stroke-width="0.75" fill="none"/>
<rect x="445.9" y="89" width="2.4" height="21.5" fill="#4a5060" opacity="0.55"/>
<path d="M447.1 88 L447.1 110.5" stroke="#5a6a90" stroke-width="0.5" fill="none"/>
<path d="M445.2 110.5 L446 104 L446.8 108 L447.6 101 L448.6 106.5 L449.6 110.5 Z" fill="#b07a50" opacity="0.8"/>
<path d="M446.4 110.5 L446.9 99 L447.4 110.5 Z" fill="#c04040" opacity="0.7"/>
<text x="427" y="157.6" font-size="10.2" fill="#1a1a1a" stroke="#1a1a1a" stroke-width="0.22">NeuroD1</text>
<line x1="384.1" y1="163.3" x2="384.1" y2="227.8" stroke="#c8c8c8" stroke-width="0.6"/>
<line x1="387" y1="248.6" x2="506.3" y2="248.6" stroke="#888" stroke-width="0.7"/>
<text x="390" y="253.2" font-size="3.4" text-anchor="middle" fill="#111" stroke="#111" stroke-width="0.25">-100</text>
<text x="447.3" y="253.2" font-size="3.4" text-anchor="middle" fill="#111" stroke="#111" stroke-width="0.25">0</text>
<text x="505.8" y="253.2" font-size="3.4" text-anchor="middle" fill="#111" stroke="#111" stroke-width="0.25">100</text>
<text transform="translate(382.2 165.5) rotate(-90)" font-size="3.3" text-anchor="middle" fill="#111" stroke="#111" stroke-width="0.25">0.50</text>
<text transform="translate(382.2 228) rotate(-90)" font-size="3.3" text-anchor="middle" fill="#111" stroke="#111" stroke-width="0.25">0.04</text>
<text x="388.2" y="170.1" font-size="3.4" fill="#222" stroke="#222" stroke-width="0.2">n = 12171</text>
<line x1="477.3" y1="166.2" x2="484" y2="166.2" stroke="#d07080" stroke-width="0.7"/>
<line x1="477.3" y1="170.6" x2="484" y2="170.6" stroke="#4060a0" stroke-width="0.7"/>
<text x="485.4" y="167.4" font-size="3.3" fill="#222" stroke="#222" stroke-width="0.2">NCI-H660</text>
<text x="485.4" y="171.8" font-size="3.3" fill="#222" stroke="#222" stroke-width="0.2">MSKCC_EF1</text>
<path d="M388.5 216.09 L389.23 216.42 L389.96 216.66 L390.69 216.88 L391.41 215.34 L392.14 215.38 L392.87 215.36 L393.6 214.3 L394.33 214.99 L395.06 214.6 L395.79 214.02 L396.51 213.47 L397.24 213.72 L397.97 212.85 L398.7 212.95 L399.43 214.45 L400.16 212.62 L400.89 212.72 L401.61 212.93 L402.34 212.01 L403.07 212.65 L403.8 211.88 L404.53 211.31 L405.26 210.33 L405.99 210.85 L406.71 210.36 L407.44 211.36 L408.17 210.3 L408.9 210.22 L409.63 209.46 L410.36 209.86 L411.09 209.94 L411.81 208.49 L412.54 208.59 L413.27 208.32 L414 208.93 L414.73 208.38 L415.46 209 L416.19 207.43 L416.91 207.5 L417.64 208.83 L418.37 208.19 L419.1 207.91 L419.83 206.78 L420.56 205.15 L421.29 205.63 L422.01 205.63 L422.74 204.73 L423.47 204.53 L424.2 204.91 L424.93 204.81 L425.66 203 L426.39 203.29 L427.11 203.29 L427.84 204.36 L428.57 204.32 L429.3 203.05 L430.03 202.92 L430.76 200.72 L431.49 200.75 L432.21 202.01 L432.94 200.64 L433.67 200.24 L434.4 199.95 L435.13 199.98 L435.86 198.94 L436.59 198.35 L437.31 197.79 L438.04 197.31 L438.77 196.31 L439.5 196.24 L440.3 197.29 L441.1 199.3 L441.9 202.78 L442.7 207.5 L443.5 212.35" stroke="#bc4450" stroke-width="0.9" fill="none"/>
<path d="M450.5 211.64 L451.3 207.14 L452.1 204.72 L452.9 201.5 L453.7 200.25 L454.5 199.45 L455.24 200.35 L455.97 200.5 L456.71 201.07 L457.44 200.41 L458.18 201.9 L458.91 202.71 L459.65 200.96 L460.39 203.08 L461.12 201.95 L461.86 202.65 L462.59 204.04 L463.33 204.29 L464.06 204.64 L464.8 203.35 L465.54 204.65 L466.27 203.76 L467.01 202.92 L467.74 203.51 L468.48 202.85 L469.21 203.42 L469.95 203.86 L470.69 203.97 L471.42 204.85 L472.16 205.29 L472.89 204.33 L473.63 204.04 L474.36 204.55 L475.1 206.16 L475.84 205.54 L476.57 206.97 L477.31 207.37 L478.04 207.12 L478.78 206.67 L479.51 207.58 L480.25 206.37 L480.99 206.87 L481.72 206.61 L482.46 206.33 L483.19 207.68 L483.93 208.2 L484.66 208.37 L485.4 209.3 L486.14 209.66 L486.87 209.51 L487.61 211.04 L488.34 211.66 L489.08 210.52 L489.81 209.67 L490.55 210.69 L491.29 210.45 L492.02 209.59 L492.76 209.58 L493.49 209.73 L494.23 209.7 L494.96 209.71 L495.7 210.22 L496.44 211.28 L497.17 211.5 L497.91 212.5 L498.64 212.5 L499.38 213.08 L500.11 212.74 L500.85 213.41 L501.59 213.47 L502.32 213 L503.06 213.17 L503.79 213.11 L504.53 214.29 L505.26 213.73 L506 214.15" stroke="#bc4450" stroke-width="0.9" fill="none"/>
<path d="M388.5 208.72 L389.22 209.61 L389.94 209.09 L390.66 208.74 L391.39 209.49 L392.11 208.12 L392.83 207.26 L393.55 206.73 L394.27 206.68 L394.99 206.16 L395.71 206.33 L396.44 206.3 L397.16 207.48 L397.88 206.3 L398.6 205.43 L399.32 205.34 L400.04 204.9 L400.76 205.37 L401.49 205.77 L402.21 205.6 L402.93 205.53 L403.65 206.2 L404.37 204.34 L405.09 204.22 L405.81 203.92 L406.54 203.51 L407.26 202.89 L407.98 203.18 L408.7 202.02 L409.42 202.17 L410.14 200.88 L410.86 201.82 L411.59 201.54 L412.31 200.58 L413.03 201.04 L413.75 200.22 L414.47 199.46 L415.19 199.46 L415.91 198.86 L416.64 197.95 L417.36 197.99 L418.08 198.16 L418.8 198.56 L419.52 197.56 L420.24 197.19 L420.96 196.68 L421.69 195.56 L422.41 195.38 L423.13 195.82 L423.85 195.06 L424.57 195.33 L425.29 194.87 L426.01 195.15 L426.74 195.37 L427.46 196.39 L428.18 195.77 L428.9 196.04 L429.62 194.99 L430.34 194.63 L431.06 193.97 L431.79 193.75 L432.51 193.96 L433.23 193.94 L433.95 192.48 L434.67 192.5 L435.39 192.99 L436.11 191.63 L436.84 190.46 L437.56 190.58 L438.28 189.8 L439 189.89 L439.9 190.35 L440.8 192.02 L441.7 194.46 L442.6 199.54 L443.5 205.5" stroke="#4a7eac" stroke-width="0.9" fill="none"/>
<path d="M450.5 205.04 L451.4 197.96 L452.3 194.94 L453.2 192.29 L454.1 191.12 L455 189.57 L455.73 191.29 L456.46 191.42 L457.19 192.81 L457.91 191.94 L458.64 192.65 L459.37 192.5 L460.1 192.37 L460.83 193.77 L461.56 193.05 L462.29 192.95 L463.01 193.65 L463.74 194.72 L464.47 194.51 L465.2 194.2 L465.93 195.68 L466.66 194.75 L467.39 195.76 L468.11 195.3 L468.84 195.91 L469.57 196.27 L470.3 195.69 L471.03 197.01 L471.76 196.32 L472.49 197.32 L473.21 196.91 L473.94 196.97 L474.67 197.41 L475.4 198.37 L476.13 198.38 L476.86 198.34 L477.59 197.36 L478.31 197.99 L479.04 197.42 L479.77 197 L480.5 199.02 L481.23 200.22 L481.96 200.92 L482.69 201.61 L483.41 203.38 L484.14 203.22 L484.87 202.27 L485.6 202.88 L486.33 202.86 L487.06 202.94 L487.79 204.06 L488.51 203.48 L489.24 204.65 L489.97 204.33 L490.7 203.36 L491.43 203.55 L492.16 204.09 L492.89 204.58 L493.61 205.16 L494.34 204.98 L495.07 205.43 L495.8 204.19 L496.53 205 L497.26 205.34 L497.99 205.27 L498.71 206.16 L499.44 207.24 L500.17 208.42 L500.9 208.85 L501.63 208.76 L502.36 208.2 L503.09 207.82 L503.81 207.87 L504.54 209.8 L505.27 208.67 L506 208.94" stroke="#4a7eac" stroke-width="0.9" fill="none"/>
<path d="M443.4 194 L444.6 205 L445.6 203 L446.3 170 L446.7 163.8 L447.1 172 L447.6 200 L448.3 200 L448.7 166 L449.1 163.5 L449.5 172 L450.2 203 L451.2 205 L452.4 194 L451.4 220 L450.6 228.5 L444.6 228.5 L444 220 Z" fill="url(#sp2)"/>
<path d="M444.8 248.4 L445.6 240 L446.2 236 L446.8 242 L447.6 238 L448.3 243 L449 233 L449.6 240 L450.4 248.4 Z" fill="#6a8050" opacity="0.9"/>
<path d="M448.6 248.4 L449.3 236 L450 248.4 Z" fill="#e0a030"/>
<text x="20.8" y="295.4" font-size="9" fill="#111" stroke="#111" stroke-width="0.22">NCI-</text>
<text x="19.2" y="306.2" font-size="9" fill="#111" stroke="#111" stroke-width="0.22">H660</text>
<text x="43.8" y="295.4" font-size="9" fill="#111" stroke="#111" stroke-width="0.22">MSKCC</text>
<text x="52.3" y="306.2" font-size="9" fill="#111" stroke="#111" stroke-width="0.22">EF1</text>
<line x1="18.2" y1="309.3" x2="40.8" y2="309.3" stroke="#111" stroke-width="1.2"/>
<line x1="47" y1="309.3" x2="71" y2="309.3" stroke="#111" stroke-width="1.2"/>
<text transform="translate(29.7 355.4) rotate(-90) scale(0.89 1)" font-size="8.7" fill="#111" stroke="#111" stroke-width="0.22">TRC Control</text>
<text transform="translate(36.9 355.4) rotate(-90) scale(0.89 1)" font-size="8.7" fill="#111" stroke="#111" stroke-width="0.22">shASCL1</text>
<text transform="translate(56.4 355.4) rotate(-90) scale(0.89 1)" font-size="8.7" fill="#111" stroke="#111" stroke-width="0.22">GFP Control</text>
<text transform="translate(63.8 355.4) rotate(-90) scale(0.89 1)" font-size="8.7" fill="#111" stroke="#111" stroke-width="0.22">ASCL1</text>
<rect x="18.5" y="358.9" width="49.2" height="14.4" fill="#fbfbfb" stroke="#222" stroke-width="1.5"/>
<text x="69.7" y="369.3" font-size="8" fill="#111" stroke="#111" stroke-width="0.22">CEACAM5</text>
<rect x="18.5" y="375.4" width="49.2" height="14.4" fill="#fbfbfb" stroke="#222" stroke-width="1.5"/>
<g opacity="1" filter="url(#bl)" fill="#0a0a0a"><ellipse cx="24.34" cy="382.9" rx="2.34" ry="2.75"/><ellipse cx="27.46" cy="382.9" rx="2.34" ry="2.75"/><rect x="23.56" y="381.36" width="4.68" height="3.09"/></g>
<g opacity="0.08" filter="url(#bl)" fill="#0a0a0a"><ellipse cx="33.03" cy="382.9" rx="1.91" ry="1.29"/><ellipse cx="35.57" cy="382.9" rx="1.91" ry="1.29"/><rect x="32.39" y="382.18" width="3.82" height="1.44"/></g>
<g opacity="0.63" filter="url(#bl)" fill="#0a0a0a"><ellipse cx="58.76" cy="382.9" rx="2.15" ry="2.12"/><ellipse cx="61.64" cy="382.9" rx="2.15" ry="2.12"/><rect x="58.05" y="381.71" width="4.31" height="2.37"/></g>
<text x="69.7" y="385.8" font-size="8" fill="#111" stroke="#111" stroke-width="0.22">ASCL1</text>
<rect x="18.5" y="391.5" width="49.2" height="14.4" fill="#fbfbfb" stroke="#222" stroke-width="1.5"/>
<g opacity="1" filter="url(#bl)" fill="#0a0a0a"><ellipse cx="51.06" cy="399" rx="2.32" ry="2.68"/><ellipse cx="54.14" cy="399" rx="2.32" ry="2.68"/><rect x="50.28" y="397.5" width="4.63" height="3"/></g>
<g opacity="1" filter="url(#bl)" fill="#0a0a0a"><ellipse cx="58.66" cy="399" rx="2.32" ry="2.68"/><ellipse cx="61.74" cy="399" rx="2.32" ry="2.68"/><rect x="57.88" y="397.5" width="4.63" height="3"/></g>
<text x="69.7" y="401.9" font-size="8" fill="#111" stroke="#111" stroke-width="0.22">NeuroD1</text>
<rect x="18.5" y="407.1" width="49.2" height="14.4" fill="#fbfbfb" stroke="#222" stroke-width="1.5"/>
<g opacity="1" filter="url(#bl)" fill="#0a0a0a"><ellipse cx="24.36" cy="414.6" rx="2.32" ry="2.68"/><ellipse cx="27.44" cy="414.6" rx="2.32" ry="2.68"/><rect x="23.58" y="413.1" width="4.63" height="3"/></g>
<g opacity="1" filter="url(#bl)" fill="#0a0a0a"><ellipse cx="32.76" cy="414.6" rx="2.32" ry="2.68"/><ellipse cx="35.84" cy="414.6" rx="2.32" ry="2.68"/><rect x="31.98" y="413.1" width="4.63" height="3"/></g>
<g opacity="1" filter="url(#bl)" fill="#0a0a0a"><ellipse cx="51.06" cy="414.6" rx="2.32" ry="2.68"/><ellipse cx="54.14" cy="414.6" rx="2.32" ry="2.68"/><rect x="50.28" y="413.1" width="4.63" height="3"/></g>
<g opacity="1" filter="url(#bl)" fill="#0a0a0a"><ellipse cx="58.66" cy="414.6" rx="2.32" ry="2.68"/><ellipse cx="61.74" cy="414.6" rx="2.32" ry="2.68"/><rect x="57.88" y="413.1" width="4.63" height="3"/></g>
<text x="69.7" y="417.5" font-size="8" fill="#111" stroke="#111" stroke-width="0.22">GAPDH</text>
<rect x="21.9" y="360" width="8" height="12" rx="2" fill="#444" opacity="0.22" filter="url(#bl2)"/>
<rect x="22.7" y="361.5" width="1.6" height="9" fill="#222" opacity="0.35" filter="url(#bl)"/>
<rect x="27.5" y="361.5" width="1.6" height="9" fill="#222" opacity="0.35" filter="url(#bl)"/>
<rect x="22.7" y="364.3" width="6.4" height="2.6" fill="#222" opacity="0.55" filter="url(#bl)"/>
<rect x="30.3" y="360" width="8" height="12" rx="2" fill="#444" opacity="0.22" filter="url(#bl2)"/>
<rect x="31.1" y="361.5" width="1.6" height="9" fill="#222" opacity="0.35" filter="url(#bl)"/>
<rect x="35.9" y="361.5" width="1.6" height="9" fill="#222" opacity="0.35" filter="url(#bl)"/>
<rect x="31.1" y="364.3" width="6.4" height="2.6" fill="#222" opacity="0.55" filter="url(#bl)"/>
<text transform="translate(134.7 336) rotate(-90) scale(0.89 1)" font-size="8.6" fill="#111" stroke="#111" stroke-width="0.22">GFP Control</text>
<text transform="translate(142.56 336) rotate(-90) scale(0.89 1)" font-size="8.6" fill="#111" stroke="#111" stroke-width="0.22">TP53 R175H</text>
<text transform="translate(150.42 336) rotate(-90) scale(0.89 1)" font-size="8.6" fill="#111" stroke="#111" stroke-width="0.22">shRB1</text>
<text transform="translate(158.28 336) rotate(-90) scale(0.89 1)" font-size="8.6" fill="#111" stroke="#111" stroke-width="0.22">MYCN</text>
<text transform="translate(166.14 336) rotate(-90) scale(0.89 1)" font-size="8.6" fill="#111" stroke="#111" stroke-width="0.22">ASCL1</text>
<text transform="translate(174 336) rotate(-90) scale(0.89 1)" font-size="8.6" fill="#111" stroke="#111" stroke-width="0.22">PR</text>
<text transform="translate(181.86 336) rotate(-90) scale(0.89 1)" font-size="8.6" fill="#111" stroke="#111" stroke-width="0.22">PN</text>
<text transform="translate(189.72 336) rotate(-90) scale(0.89 1)" font-size="8.6" fill="#111" stroke="#111" stroke-width="0.22">PA</text>
<text transform="translate(197.58 336) rotate(-90) scale(0.89 1)" font-size="8.6" fill="#111" stroke="#111" stroke-width="0.22">RN</text>
<text transform="translate(205.44 336) rotate(-90) scale(0.89 1)" font-size="8.6" fill="#111" stroke="#111" stroke-width="0.22">RA</text>
<text transform="translate(213.3 336) rotate(-90) scale(0.89 1)" font-size="8.6" fill="#111" stroke="#111" stroke-width="0.22">NA</text>
<text transform="translate(221.16 336) rotate(-90) scale(0.89 1)" font-size="8.6" fill="#111" stroke="#111" stroke-width="0.22">PRN</text>
<text transform="translate(229.02 336) rotate(-90) scale(0.89 1)" font-size="8.6" fill="#111" stroke="#111" stroke-width="0.22">PRA</text>
<text transform="translate(236.88 336) rotate(-90) scale(0.89 1)" font-size="8.6" fill="#111" stroke="#111" stroke-width="0.22">PNA</text>
<text transform="translate(244.74 336) rotate(-90) scale(0.89 1)" font-size="8.6" fill="#111" stroke="#111" stroke-width="0.22">RNA</text>
<text transform="translate(252.6 336) rotate(-90) scale(0.89 1)" font-size="8.6" fill="#111" stroke="#111" stroke-width="0.22">PRNA</text>
<text x="178" y="310" font-size="9" fill="#111" stroke="#111" stroke-width="0.22">Combinations</text>
<line x1="168.9" y1="312.4" x2="256.3" y2="312.4" stroke="#111" stroke-width="1.1"/>
<rect x="127" y="337.7" width="130.7" height="13" fill="#ececec" stroke="#222" stroke-width="1.25"/>
<g opacity="0.06" filter="url(#bl)" fill="#0a0a0a"><ellipse cx="129.65" cy="344.5" rx="2.02" ry="1.04"/><ellipse cx="132.35" cy="344.5" rx="2.02" ry="1.04"/><rect x="128.98" y="343.92" width="4.04" height="1.16"/></g>
<g opacity="0.08" filter="url(#bl)" fill="#0a0a0a"><ellipse cx="137.78" cy="344.5" rx="2.03" ry="1.07"/><ellipse cx="140.48" cy="344.5" rx="2.03" ry="1.07"/><rect x="137.1" y="343.9" width="4.06" height="1.19"/></g>
<g opacity="0.06" filter="url(#bl)" fill="#0a0a0a"><ellipse cx="145.91" cy="344.5" rx="2.02" ry="1.04"/><ellipse cx="148.61" cy="344.5" rx="2.02" ry="1.04"/><rect x="145.24" y="343.92" width="4.04" height="1.16"/></g>
<g opacity="0.08" filter="url(#bl)" fill="#0a0a0a"><ellipse cx="154.04" cy="344.5" rx="2.03" ry="1.07"/><ellipse cx="156.74" cy="344.5" rx="2.03" ry="1.07"/><rect x="153.36" y="343.9" width="4.06" height="1.19"/></g>
<g opacity="0.79" filter="url(#bl)" fill="#0a0a0a"><ellipse cx="161.94" cy="344.5" rx="2.37" ry="1.95"/><ellipse cx="165.1" cy="344.5" rx="2.37" ry="1.95"/><rect x="161.15" y="343.41" width="4.73" height="2.18"/></g>
<g opacity="0.05" filter="url(#bl)" fill="#0a0a0a"><ellipse cx="170.31" cy="344.5" rx="2.02" ry="1.03"/><ellipse cx="172.99" cy="344.5" rx="2.02" ry="1.03"/><rect x="169.63" y="343.93" width="4.03" height="1.15"/></g>
<g opacity="0.04" filter="url(#bl)" fill="#0a0a0a"><ellipse cx="178.44" cy="344.5" rx="2.01" ry="1.01"/><ellipse cx="181.12" cy="344.5" rx="2.01" ry="1.01"/><rect x="177.77" y="343.93" width="4.02" height="1.13"/></g>
<g opacity="0.32" filter="url(#bl)" fill="#0a0a0a"><ellipse cx="186.48" cy="344.5" rx="2.14" ry="1.36"/><ellipse cx="189.34" cy="344.5" rx="2.14" ry="1.36"/><rect x="185.77" y="343.74" width="4.28" height="1.52"/></g>
<g opacity="0.04" filter="url(#bl)" fill="#0a0a0a"><ellipse cx="194.7" cy="344.5" rx="2.01" ry="1.01"/><ellipse cx="197.38" cy="344.5" rx="2.01" ry="1.01"/><rect x="194.03" y="343.93" width="4.02" height="1.13"/></g>
<g opacity="0.89" filter="url(#bl)" fill="#0a0a0a"><ellipse cx="202.56" cy="344.5" rx="2.42" ry="2.08"/><ellipse cx="205.78" cy="344.5" rx="2.42" ry="2.08"/><rect x="201.75" y="343.33" width="4.83" height="2.33"/></g>
<g opacity="0.95" filter="url(#bl)" fill="#0a0a0a"><ellipse cx="210.67" cy="344.5" rx="2.44" ry="2.15"/><ellipse cx="213.93" cy="344.5" rx="2.44" ry="2.15"/><rect x="209.86" y="343.3" width="4.88" height="2.41"/></g>
<g opacity="0.26" filter="url(#bl)" fill="#0a0a0a"><ellipse cx="219.02" cy="344.5" rx="2.12" ry="1.29"/><ellipse cx="221.84" cy="344.5" rx="2.12" ry="1.29"/><rect x="218.31" y="343.78" width="4.23" height="1.44"/></g>
<g opacity="0.26" filter="url(#bl)" fill="#0a0a0a"><ellipse cx="227.15" cy="344.5" rx="2.12" ry="1.29"/><ellipse cx="229.97" cy="344.5" rx="2.12" ry="1.29"/><rect x="226.44" y="343.78" width="4.23" height="1.44"/></g>
<g opacity="0.63" filter="url(#bl)" fill="#0a0a0a"><ellipse cx="235.16" cy="344.5" rx="2.29" ry="1.75"/><ellipse cx="238.22" cy="344.5" rx="2.29" ry="1.75"/><rect x="234.4" y="343.52" width="4.58" height="1.96"/></g>
<g opacity="0.68" filter="url(#bl)" fill="#0a0a0a"><ellipse cx="243.28" cy="344.5" rx="2.32" ry="1.82"/><ellipse cx="246.36" cy="344.5" rx="2.32" ry="1.82"/><rect x="242.5" y="343.48" width="4.63" height="2.04"/></g>
<g opacity="0.63" filter="url(#bl)" fill="#0a0a0a"><ellipse cx="251.42" cy="344.5" rx="2.29" ry="1.75"/><ellipse cx="254.48" cy="344.5" rx="2.29" ry="1.75"/><rect x="250.66" y="343.52" width="4.58" height="1.96"/></g>
<text x="259.7" y="347.4" font-size="8" fill="#111" stroke="#111" stroke-width="0.22">CEACAM5</text>
<rect x="127" y="352.49" width="130.7" height="13" fill="#f6f6f6" stroke="#222" stroke-width="1.25"/>
<g opacity="0.06" filter="url(#bl)" fill="#0a0a0a"><ellipse cx="129.65" cy="359.29" rx="2.02" ry="1.3"/><ellipse cx="132.35" cy="359.29" rx="2.02" ry="1.3"/><rect x="128.98" y="358.56" width="4.04" height="1.45"/></g>
<g opacity="0.06" filter="url(#bl)" fill="#0a0a0a"><ellipse cx="137.78" cy="359.29" rx="2.02" ry="1.3"/><ellipse cx="140.48" cy="359.29" rx="2.02" ry="1.3"/><rect x="137.11" y="358.56" width="4.04" height="1.45"/></g>
<g opacity="0.06" filter="url(#bl)" fill="#0a0a0a"><ellipse cx="145.91" cy="359.29" rx="2.02" ry="1.3"/><ellipse cx="148.61" cy="359.29" rx="2.02" ry="1.3"/><rect x="145.24" y="358.56" width="4.04" height="1.45"/></g>
<g opacity="0.06" filter="url(#bl)" fill="#0a0a0a"><ellipse cx="154.04" cy="359.29" rx="2.02" ry="1.3"/><ellipse cx="156.74" cy="359.29" rx="2.02" ry="1.3"/><rect x="153.37" y="358.56" width="4.04" height="1.45"/></g>
<g opacity="1" filter="url(#bl)" fill="#0a0a0a"><ellipse cx="161.86" cy="359.29" rx="2.49" ry="3.51"/><ellipse cx="165.18" cy="359.29" rx="2.49" ry="3.51"/><rect x="161.03" y="357.32" width="4.98" height="3.93"/></g>
<g opacity="0.11" filter="url(#bl)" fill="#0a0a0a"><ellipse cx="170.29" cy="359.29" rx="2.04" ry="1.36"/><ellipse cx="173.01" cy="359.29" rx="2.04" ry="1.36"/><rect x="169.61" y="358.53" width="4.08" height="1.53"/></g>
<g opacity="0.03" filter="url(#bl)" fill="#0a0a0a"><ellipse cx="178.44" cy="359.29" rx="2.01" ry="1.25"/><ellipse cx="181.12" cy="359.29" rx="2.01" ry="1.25"/><rect x="177.77" y="358.59" width="4.01" height="1.4"/></g>
<g opacity="0.84" filter="url(#bl)" fill="#0a0a0a"><ellipse cx="186.32" cy="359.29" rx="2.39" ry="2.52"/><ellipse cx="189.5" cy="359.29" rx="2.39" ry="2.52"/><rect x="185.52" y="357.88" width="4.78" height="2.82"/></g>
<g opacity="0.03" filter="url(#bl)" fill="#0a0a0a"><ellipse cx="194.7" cy="359.29" rx="2.01" ry="1.25"/><ellipse cx="197.38" cy="359.29" rx="2.01" ry="1.25"/><rect x="194.03" y="358.59" width="4.01" height="1.4"/></g>
<g opacity="0.58" filter="url(#bl)" fill="#0a0a0a"><ellipse cx="202.66" cy="359.29" rx="2.27" ry="2.11"/><ellipse cx="205.68" cy="359.29" rx="2.27" ry="2.11"/><rect x="201.9" y="358.11" width="4.53" height="2.36"/></g>
<g opacity="1" filter="url(#bl)" fill="#0a0a0a"><ellipse cx="210.64" cy="359.29" rx="2.49" ry="3.51"/><ellipse cx="213.96" cy="359.29" rx="2.49" ry="3.51"/><rect x="209.81" y="357.32" width="4.98" height="3.93"/></g>
<g opacity="0.03" filter="url(#bl)" fill="#0a0a0a"><ellipse cx="219.09" cy="359.29" rx="2.01" ry="1.25"/><ellipse cx="221.77" cy="359.29" rx="2.01" ry="1.25"/><rect x="218.42" y="358.59" width="4.01" height="1.4"/></g>
<g opacity="0.37" filter="url(#bl)" fill="#0a0a0a"><ellipse cx="227.12" cy="359.29" rx="2.17" ry="1.78"/><ellipse cx="230" cy="359.29" rx="2.17" ry="1.78"/><rect x="226.39" y="358.29" width="4.33" height="1.99"/></g>
<g opacity="0.95" filter="url(#bl)" fill="#0a0a0a"><ellipse cx="235.06" cy="359.29" rx="2.44" ry="2.69"/><ellipse cx="238.32" cy="359.29" rx="2.44" ry="2.69"/><rect x="234.25" y="357.79" width="4.88" height="3.01"/></g>
<g opacity="0.63" filter="url(#bl)" fill="#0a0a0a"><ellipse cx="243.29" cy="359.29" rx="2.29" ry="2.19"/><ellipse cx="246.35" cy="359.29" rx="2.29" ry="2.19"/><rect x="242.53" y="358.06" width="4.58" height="2.45"/></g>
<g opacity="0.58" filter="url(#bl)" fill="#0a0a0a"><ellipse cx="251.44" cy="359.29" rx="2.27" ry="2.11"/><ellipse cx="254.46" cy="359.29" rx="2.27" ry="2.11"/><rect x="250.68" y="358.11" width="4.53" height="2.36"/></g>
<text x="259.7" y="362.19" font-size="8" fill="#111" stroke="#111" stroke-width="0.22">SYP</text>
<rect x="127" y="367.28" width="130.7" height="13" fill="#fbfbfb" stroke="#222" stroke-width="1.25"/>
<g opacity="1" filter="url(#bl)" fill="#0a0a0a"><ellipse cx="161.86" cy="374.08" rx="2.49" ry="2.47"/><ellipse cx="165.18" cy="374.08" rx="2.49" ry="2.47"/><rect x="161.03" y="372.7" width="4.98" height="2.77"/></g>
<g opacity="1" filter="url(#bl)" fill="#0a0a0a"><ellipse cx="186.25" cy="374.08" rx="2.49" ry="2.47"/><ellipse cx="189.57" cy="374.08" rx="2.49" ry="2.47"/><rect x="185.42" y="372.7" width="4.98" height="2.77"/></g>
<g opacity="1" filter="url(#bl)" fill="#0a0a0a"><ellipse cx="202.51" cy="374.08" rx="2.49" ry="2.47"/><ellipse cx="205.83" cy="374.08" rx="2.49" ry="2.47"/><rect x="201.68" y="372.7" width="4.98" height="2.77"/></g>
<g opacity="1" filter="url(#bl)" fill="#0a0a0a"><ellipse cx="210.64" cy="374.08" rx="2.49" ry="2.47"/><ellipse cx="213.96" cy="374.08" rx="2.49" ry="2.47"/><rect x="209.81" y="372.7" width="4.98" height="2.77"/></g>
<g opacity="0.47" filter="url(#bl)" fill="#0a0a0a"><ellipse cx="227.08" cy="374.08" rx="2.22" ry="1.68"/><ellipse cx="230.04" cy="374.08" rx="2.22" ry="1.68"/><rect x="226.34" y="373.14" width="4.43" height="1.89"/></g>
<g opacity="1" filter="url(#bl)" fill="#0a0a0a"><ellipse cx="235.05" cy="374.08" rx="2.47" ry="2.4"/><ellipse cx="238.33" cy="374.08" rx="2.47" ry="2.4"/><rect x="234.22" y="372.74" width="4.93" height="2.69"/></g>
<g opacity="1" filter="url(#bl)" fill="#0a0a0a"><ellipse cx="243.18" cy="374.08" rx="2.47" ry="2.4"/><ellipse cx="246.46" cy="374.08" rx="2.47" ry="2.4"/><rect x="242.35" y="372.74" width="4.93" height="2.69"/></g>
<g opacity="1" filter="url(#bl)" fill="#0a0a0a"><ellipse cx="251.29" cy="374.08" rx="2.49" ry="2.47"/><ellipse cx="254.61" cy="374.08" rx="2.49" ry="2.47"/><rect x="250.46" y="372.7" width="4.98" height="2.77"/></g>
<text x="259.7" y="376.98" font-size="8" fill="#111" stroke="#111" stroke-width="0.22">INSM1</text>
<rect x="127" y="382.07" width="130.7" height="13" fill="#fbfbfb" stroke="#222" stroke-width="1.25"/>
<g opacity="0.08" filter="url(#bl)" fill="#0a0a0a"><ellipse cx="129.65" cy="388.87" rx="2.03" ry="1.15"/><ellipse cx="132.35" cy="388.87" rx="2.03" ry="1.15"/><rect x="128.97" y="388.22" width="4.06" height="1.29"/></g>
<g opacity="1" filter="url(#bl)" fill="#0a0a0a"><ellipse cx="137.47" cy="388.87" rx="2.49" ry="2.54"/><ellipse cx="140.79" cy="388.87" rx="2.49" ry="2.54"/><rect x="136.64" y="387.45" width="4.98" height="2.85"/></g>
<g opacity="0.11" filter="url(#bl)" fill="#0a0a0a"><ellipse cx="145.9" cy="388.87" rx="2.04" ry="1.18"/><ellipse cx="148.62" cy="388.87" rx="2.04" ry="1.18"/><rect x="145.22" y="388.21" width="4.08" height="1.32"/></g>
<g opacity="0.13" filter="url(#bl)" fill="#0a0a0a"><ellipse cx="154.02" cy="388.87" rx="2.05" ry="1.21"/><ellipse cx="156.76" cy="388.87" rx="2.05" ry="1.21"/><rect x="153.34" y="388.19" width="4.1" height="1.36"/></g>
<g opacity="0.11" filter="url(#bl)" fill="#0a0a0a"><ellipse cx="162.16" cy="388.87" rx="2.04" ry="1.18"/><ellipse cx="164.88" cy="388.87" rx="2.04" ry="1.18"/><rect x="161.48" y="388.21" width="4.08" height="1.32"/></g>
<g opacity="1" filter="url(#bl)" fill="#0a0a0a"><ellipse cx="169.99" cy="388.87" rx="2.49" ry="2.76"/><ellipse cx="173.31" cy="388.87" rx="2.49" ry="2.76"/><rect x="169.16" y="387.33" width="4.98" height="3.09"/></g>
<g opacity="1" filter="url(#bl)" fill="#0a0a0a"><ellipse cx="178.12" cy="388.87" rx="2.49" ry="2.54"/><ellipse cx="181.44" cy="388.87" rx="2.49" ry="2.54"/><rect x="177.29" y="387.45" width="4.98" height="2.85"/></g>
<g opacity="1" filter="url(#bl)" fill="#0a0a0a"><ellipse cx="186.25" cy="388.87" rx="2.49" ry="2.54"/><ellipse cx="189.57" cy="388.87" rx="2.49" ry="2.54"/><rect x="185.42" y="387.45" width="4.98" height="2.85"/></g>
<g opacity="0.13" filter="url(#bl)" fill="#0a0a0a"><ellipse cx="194.67" cy="388.87" rx="2.05" ry="1.21"/><ellipse cx="197.41" cy="388.87" rx="2.05" ry="1.21"/><rect x="193.99" y="388.19" width="4.1" height="1.36"/></g>
<g opacity="0.11" filter="url(#bl)" fill="#0a0a0a"><ellipse cx="202.81" cy="388.87" rx="2.04" ry="1.18"/><ellipse cx="205.53" cy="388.87" rx="2.04" ry="1.18"/><rect x="202.13" y="388.21" width="4.08" height="1.32"/></g>
<g opacity="0.11" filter="url(#bl)" fill="#0a0a0a"><ellipse cx="210.94" cy="388.87" rx="2.04" ry="1.18"/><ellipse cx="213.66" cy="388.87" rx="2.04" ry="1.18"/><rect x="210.26" y="388.21" width="4.08" height="1.32"/></g>
<g opacity="1" filter="url(#bl)" fill="#0a0a0a"><ellipse cx="218.77" cy="388.87" rx="2.49" ry="2.54"/><ellipse cx="222.09" cy="388.87" rx="2.49" ry="2.54"/><rect x="217.94" y="387.45" width="4.98" height="2.85"/></g>
<g opacity="1" filter="url(#bl)" fill="#0a0a0a"><ellipse cx="226.9" cy="388.87" rx="2.49" ry="2.47"/><ellipse cx="230.22" cy="388.87" rx="2.49" ry="2.47"/><rect x="226.07" y="387.49" width="4.98" height="2.77"/></g>
<g opacity="0.53" filter="url(#bl)" fill="#0a0a0a"><ellipse cx="235.2" cy="388.87" rx="2.24" ry="1.76"/><ellipse cx="238.18" cy="388.87" rx="2.24" ry="1.76"/><rect x="234.45" y="387.89" width="4.48" height="1.97"/></g>
<g opacity="0.11" filter="url(#bl)" fill="#0a0a0a"><ellipse cx="243.46" cy="388.87" rx="2.04" ry="1.18"/><ellipse cx="246.18" cy="388.87" rx="2.04" ry="1.18"/><rect x="242.78" y="388.21" width="4.08" height="1.32"/></g>
<g opacity="0.89" filter="url(#bl)" fill="#0a0a0a"><ellipse cx="251.34" cy="388.87" rx="2.42" ry="2.26"/><ellipse cx="254.56" cy="388.87" rx="2.42" ry="2.26"/><rect x="250.53" y="387.61" width="4.83" height="2.53"/></g>
<text x="259.7" y="391.77" font-size="8" fill="#111" stroke="#111" stroke-width="0.22">p53</text>
<rect x="127" y="396.86" width="130.7" height="13" fill="#f4f4f4" stroke="#222" stroke-width="1.25"/>
<g opacity="0.58" filter="url(#bl)" fill="#0a0a0a"><ellipse cx="129.49" cy="403.66" rx="2.27" ry="1.05"/><ellipse cx="132.51" cy="403.66" rx="2.27" ry="1.05"/><rect x="128.73" y="403.07" width="4.53" height="1.18"/></g>
<g opacity="0.58" filter="url(#bl)" fill="#0a0a0a"><ellipse cx="137.62" cy="403.66" rx="2.27" ry="1.05"/><ellipse cx="140.64" cy="403.66" rx="2.27" ry="1.05"/><rect x="136.86" y="403.07" width="4.53" height="1.18"/></g>
<g opacity="0.58" filter="url(#bl)" fill="#0a0a0a"><ellipse cx="153.88" cy="403.66" rx="2.27" ry="1.05"/><ellipse cx="156.9" cy="403.66" rx="2.27" ry="1.05"/><rect x="153.12" y="403.07" width="4.53" height="1.18"/></g>
<g opacity="0.58" filter="url(#bl)" fill="#0a0a0a"><ellipse cx="162.01" cy="403.66" rx="2.27" ry="1.05"/><ellipse cx="165.03" cy="403.66" rx="2.27" ry="1.05"/><rect x="161.25" y="403.07" width="4.53" height="1.18"/></g>
<g opacity="0.63" filter="url(#bl)" fill="#0a0a0a"><ellipse cx="178.25" cy="403.66" rx="2.29" ry="1.09"/><ellipse cx="181.31" cy="403.66" rx="2.29" ry="1.09"/><rect x="177.49" y="403.05" width="4.58" height="1.23"/></g>
<g opacity="0.32" filter="url(#bl)" fill="#0a0a0a"><ellipse cx="186.48" cy="403.66" rx="2.14" ry="0.85"/><ellipse cx="189.34" cy="403.66" rx="2.14" ry="0.85"/><rect x="185.77" y="403.19" width="4.28" height="0.95"/></g>
<g opacity="0.63" filter="url(#bl)" fill="#0a0a0a"><ellipse cx="210.77" cy="403.66" rx="2.29" ry="1.09"/><ellipse cx="213.83" cy="403.66" rx="2.29" ry="1.09"/><rect x="210.01" y="403.05" width="4.58" height="1.23"/></g>
<g opacity="0.63" filter="url(#bl)" fill="#0a0a0a"><ellipse cx="235.16" cy="403.66" rx="2.29" ry="1.09"/><ellipse cx="238.22" cy="403.66" rx="2.29" ry="1.09"/><rect x="234.4" y="403.05" width="4.58" height="1.23"/></g>
<text x="259.7" y="406.56" font-size="8" fill="#111" stroke="#111" stroke-width="0.22">Rb1</text>
<rect x="127" y="411.65" width="130.7" height="13" fill="#fbfbfb" stroke="#222" stroke-width="1.25"/>
<g opacity="1" filter="url(#bl)" fill="#0a0a0a"><ellipse cx="153.73" cy="418.45" rx="2.49" ry="2.54"/><ellipse cx="157.05" cy="418.45" rx="2.49" ry="2.54"/><rect x="152.9" y="417.03" width="4.98" height="2.85"/></g>
<g opacity="1" filter="url(#bl)" fill="#0a0a0a"><ellipse cx="178.12" cy="418.45" rx="2.49" ry="2.47"/><ellipse cx="181.44" cy="418.45" rx="2.49" ry="2.47"/><rect x="177.29" y="417.07" width="4.98" height="2.77"/></g>
<g opacity="1" filter="url(#bl)" fill="#0a0a0a"><ellipse cx="194.38" cy="418.45" rx="2.49" ry="2.47"/><ellipse cx="197.7" cy="418.45" rx="2.49" ry="2.47"/><rect x="193.55" y="417.07" width="4.98" height="2.77"/></g>
<g opacity="0.26" filter="url(#bl)" fill="#0a0a0a"><ellipse cx="210.89" cy="418.45" rx="2.12" ry="1.4"/><ellipse cx="213.71" cy="418.45" rx="2.12" ry="1.4"/><rect x="210.18" y="417.67" width="4.23" height="1.57"/></g>
<g opacity="1" filter="url(#bl)" fill="#0a0a0a"><ellipse cx="218.77" cy="418.45" rx="2.49" ry="3.33"/><ellipse cx="222.09" cy="418.45" rx="2.49" ry="3.33"/><rect x="217.94" y="416.59" width="4.98" height="3.73"/></g>
<g opacity="0.26" filter="url(#bl)" fill="#0a0a0a"><ellipse cx="235.28" cy="418.45" rx="2.12" ry="1.4"/><ellipse cx="238.1" cy="418.45" rx="2.12" ry="1.4"/><rect x="234.57" y="417.67" width="4.23" height="1.57"/></g>
<g opacity="0.26" filter="url(#bl)" fill="#0a0a0a"><ellipse cx="243.41" cy="418.45" rx="2.12" ry="1.4"/><ellipse cx="246.23" cy="418.45" rx="2.12" ry="1.4"/><rect x="242.7" y="417.67" width="4.23" height="1.57"/></g>
<g opacity="0.26" filter="url(#bl)" fill="#0a0a0a"><ellipse cx="251.54" cy="418.45" rx="2.12" ry="1.4"/><ellipse cx="254.36" cy="418.45" rx="2.12" ry="1.4"/><rect x="250.83" y="417.67" width="4.23" height="1.57"/></g>
<text x="259.7" y="421.35" font-size="8" fill="#111" stroke="#111" stroke-width="0.22">N-Myc</text>
<rect x="127" y="426.44" width="130.7" height="13" fill="#fbfbfb" stroke="#222" stroke-width="1.25"/>
<g opacity="0.47" filter="url(#bl)" fill="#0a0a0a"><ellipse cx="162.04" cy="433.24" rx="2.22" ry="1.3"/><ellipse cx="165" cy="433.24" rx="2.22" ry="1.3"/><rect x="161.3" y="432.51" width="4.43" height="1.45"/></g>
<g opacity="0.47" filter="url(#bl)" fill="#0a0a0a"><ellipse cx="186.43" cy="433.24" rx="2.22" ry="1.3"/><ellipse cx="189.39" cy="433.24" rx="2.22" ry="1.3"/><rect x="185.69" y="432.51" width="4.43" height="1.45"/></g>
<g opacity="0.89" filter="url(#bl)" fill="#0a0a0a"><ellipse cx="202.56" cy="433.24" rx="2.42" ry="1.74"/><ellipse cx="205.78" cy="433.24" rx="2.42" ry="1.74"/><rect x="201.75" y="432.27" width="4.83" height="1.94"/></g>
<g opacity="0.58" filter="url(#bl)" fill="#0a0a0a"><ellipse cx="210.79" cy="433.24" rx="2.27" ry="1.41"/><ellipse cx="213.81" cy="433.24" rx="2.27" ry="1.41"/><rect x="210.03" y="432.45" width="4.53" height="1.57"/></g>
<g opacity="0.89" filter="url(#bl)" fill="#0a0a0a"><ellipse cx="226.95" cy="433.24" rx="2.42" ry="1.74"/><ellipse cx="230.17" cy="433.24" rx="2.42" ry="1.74"/><rect x="226.14" y="432.27" width="4.83" height="1.94"/></g>
<g opacity="0.47" filter="url(#bl)" fill="#0a0a0a"><ellipse cx="235.21" cy="433.24" rx="2.22" ry="1.3"/><ellipse cx="238.17" cy="433.24" rx="2.22" ry="1.3"/><rect x="234.47" y="432.51" width="4.43" height="1.45"/></g>
<g opacity="0.89" filter="url(#bl)" fill="#0a0a0a"><ellipse cx="243.21" cy="433.24" rx="2.42" ry="1.74"/><ellipse cx="246.43" cy="433.24" rx="2.42" ry="1.74"/><rect x="242.4" y="432.27" width="4.83" height="1.94"/></g>
<g opacity="0.58" filter="url(#bl)" fill="#0a0a0a"><ellipse cx="251.44" cy="433.24" rx="2.27" ry="1.41"/><ellipse cx="254.46" cy="433.24" rx="2.27" ry="1.41"/><rect x="250.68" y="432.45" width="4.53" height="1.57"/></g>
<text x="259.7" y="436.14" font-size="8" fill="#111" stroke="#111" stroke-width="0.22">ASCL1</text>
<rect x="127" y="441.23" width="130.7" height="13" fill="#fbfbfb" stroke="#222" stroke-width="1.25"/>
<g opacity="1" filter="url(#bl)" fill="#0a0a0a"><ellipse cx="129.34" cy="448.03" rx="2.49" ry="2.47"/><ellipse cx="132.66" cy="448.03" rx="2.49" ry="2.47"/><rect x="128.51" y="446.65" width="4.98" height="2.77"/></g>
<g opacity="1" filter="url(#bl)" fill="#0a0a0a"><ellipse cx="137.47" cy="448.03" rx="2.49" ry="2.47"/><ellipse cx="140.79" cy="448.03" rx="2.49" ry="2.47"/><rect x="136.64" y="446.65" width="4.98" height="2.77"/></g>
<g opacity="1" filter="url(#bl)" fill="#0a0a0a"><ellipse cx="145.6" cy="448.03" rx="2.49" ry="2.47"/><ellipse cx="148.92" cy="448.03" rx="2.49" ry="2.47"/><rect x="144.77" y="446.65" width="4.98" height="2.77"/></g>
<g opacity="1" filter="url(#bl)" fill="#0a0a0a"><ellipse cx="153.73" cy="448.03" rx="2.49" ry="2.47"/><ellipse cx="157.05" cy="448.03" rx="2.49" ry="2.47"/><rect x="152.9" y="446.65" width="4.98" height="2.77"/></g>
<g opacity="1" filter="url(#bl)" fill="#0a0a0a"><ellipse cx="161.86" cy="448.03" rx="2.49" ry="2.47"/><ellipse cx="165.18" cy="448.03" rx="2.49" ry="2.47"/><rect x="161.03" y="446.65" width="4.98" height="2.77"/></g>
<g opacity="1" filter="url(#bl)" fill="#0a0a0a"><ellipse cx="169.99" cy="448.03" rx="2.49" ry="2.47"/><ellipse cx="173.31" cy="448.03" rx="2.49" ry="2.47"/><rect x="169.16" y="446.65" width="4.98" height="2.77"/></g>
<g opacity="1" filter="url(#bl)" fill="#0a0a0a"><ellipse cx="178.12" cy="448.03" rx="2.49" ry="2.47"/><ellipse cx="181.44" cy="448.03" rx="2.49" ry="2.47"/><rect x="177.29" y="446.65" width="4.98" height="2.77"/></g>
<g opacity="1" filter="url(#bl)" fill="#0a0a0a"><ellipse cx="186.25" cy="448.03" rx="2.49" ry="2.47"/><ellipse cx="189.57" cy="448.03" rx="2.49" ry="2.47"/><rect x="185.42" y="446.65" width="4.98" height="2.77"/></g>
<g opacity="1" filter="url(#bl)" fill="#0a0a0a"><ellipse cx="194.38" cy="448.03" rx="2.49" ry="2.47"/><ellipse cx="197.7" cy="448.03" rx="2.49" ry="2.47"/><rect x="193.55" y="446.65" width="4.98" height="2.77"/></g>
<g opacity="1" filter="url(#bl)" fill="#0a0a0a"><ellipse cx="202.51" cy="448.03" rx="2.49" ry="2.47"/><ellipse cx="205.83" cy="448.03" rx="2.49" ry="2.47"/><rect x="201.68" y="446.65" width="4.98" height="2.77"/></g>
<g opacity="1" filter="url(#bl)" fill="#0a0a0a"><ellipse cx="210.64" cy="448.03" rx="2.49" ry="2.47"/><ellipse cx="213.96" cy="448.03" rx="2.49" ry="2.47"/><rect x="209.81" y="446.65" width="4.98" height="2.77"/></g>
<g opacity="1" filter="url(#bl)" fill="#0a0a0a"><ellipse cx="218.77" cy="448.03" rx="2.49" ry="2.47"/><ellipse cx="222.09" cy="448.03" rx="2.49" ry="2.47"/><rect x="217.94" y="446.65" width="4.98" height="2.77"/></g>
<g opacity="1" filter="url(#bl)" fill="#0a0a0a"><ellipse cx="226.9" cy="448.03" rx="2.49" ry="2.47"/><ellipse cx="230.22" cy="448.03" rx="2.49" ry="2.47"/><rect x="226.07" y="446.65" width="4.98" height="2.77"/></g>
<g opacity="1" filter="url(#bl)" fill="#0a0a0a"><ellipse cx="235.03" cy="448.03" rx="2.49" ry="2.47"/><ellipse cx="238.35" cy="448.03" rx="2.49" ry="2.47"/><rect x="234.2" y="446.65" width="4.98" height="2.77"/></g>
<g opacity="1" filter="url(#bl)" fill="#0a0a0a"><ellipse cx="243.16" cy="448.03" rx="2.49" ry="2.47"/><ellipse cx="246.48" cy="448.03" rx="2.49" ry="2.47"/><rect x="242.33" y="446.65" width="4.98" height="2.77"/></g>
<g opacity="1" filter="url(#bl)" fill="#0a0a0a"><ellipse cx="251.29" cy="448.03" rx="2.49" ry="2.47"/><ellipse cx="254.61" cy="448.03" rx="2.49" ry="2.47"/><rect x="250.46" y="446.65" width="4.98" height="2.77"/></g>
<text x="259.7" y="450.93" font-size="8" fill="#111" stroke="#111" stroke-width="0.22">GAPDH</text>
<ellipse cx="172.85" cy="346.42" rx="3.09" ry="2.9" fill="#777" opacity="0.18" filter="url(#bl2)"/>
<ellipse cx="194.41" cy="339.29" rx="2.43" ry="2.9" fill="#777" opacity="0.17" filter="url(#bl2)"/>
<ellipse cx="192.86" cy="340.13" rx="2.44" ry="1.64" fill="#777" opacity="0.16" filter="url(#bl2)"/>
<ellipse cx="169.32" cy="339.13" rx="1.93" ry="1.7" fill="#777" opacity="0.21" filter="url(#bl2)"/>
<ellipse cx="183.13" cy="340.6" rx="3.09" ry="1.45" fill="#777" opacity="0.17" filter="url(#bl2)"/>
<ellipse cx="137.12" cy="339.02" rx="3.24" ry="1.58" fill="#777" opacity="0.11" filter="url(#bl2)"/>
<ellipse cx="198.73" cy="347.72" rx="2.08" ry="2.93" fill="#777" opacity="0.16" filter="url(#bl2)"/>
<ellipse cx="176.8" cy="341.05" rx="3.38" ry="2.44" fill="#777" opacity="0.22" filter="url(#bl2)"/>
<ellipse cx="192.35" cy="341.99" rx="2.22" ry="1.5" fill="#777" opacity="0.1" filter="url(#bl2)"/>
<ellipse cx="132.69" cy="342.01" rx="2.71" ry="1.21" fill="#777" opacity="0.17" filter="url(#bl2)"/>
<ellipse cx="152.33" cy="342.1" rx="3.14" ry="2.07" fill="#777" opacity="0.12" filter="url(#bl2)"/>
<ellipse cx="162.65" cy="346.05" rx="1.61" ry="2.96" fill="#777" opacity="0.08" filter="url(#bl2)"/>
<ellipse cx="181.99" cy="347.45" rx="1.54" ry="2.62" fill="#777" opacity="0.13" filter="url(#bl2)"/>
<ellipse cx="169.65" cy="339.09" rx="1.59" ry="1.53" fill="#777" opacity="0.21" filter="url(#bl2)"/>
<ellipse cx="142.15" cy="346.56" rx="3.36" ry="2.9" fill="#777" opacity="0.13" filter="url(#bl2)"/>
<ellipse cx="153.55" cy="344.25" rx="3.05" ry="1.39" fill="#777" opacity="0.18" filter="url(#bl2)"/>
<ellipse cx="185.4" cy="347.6" rx="1.57" ry="2.9" fill="#777" opacity="0.09" filter="url(#bl2)"/>
<ellipse cx="152.53" cy="345.11" rx="3.34" ry="1.81" fill="#777" opacity="0.21" filter="url(#bl2)"/>
<ellipse cx="167.25" cy="342.12" rx="2.13" ry="1.52" fill="#777" opacity="0.09" filter="url(#bl2)"/>
<ellipse cx="138.72" cy="345.89" rx="3.49" ry="1.49" fill="#777" opacity="0.09" filter="url(#bl2)"/>
<ellipse cx="199.04" cy="344.34" rx="2.31" ry="1.63" fill="#777" opacity="0.16" filter="url(#bl2)"/>
<ellipse cx="187.49" cy="343.56" rx="2.34" ry="1.3" fill="#777" opacity="0.21" filter="url(#bl2)"/>
<ellipse cx="130.36" cy="343.94" rx="3.18" ry="1.44" fill="#777" opacity="0.18" filter="url(#bl2)"/>
<ellipse cx="196.39" cy="345.3" rx="3.08" ry="1.39" fill="#777" opacity="0.14" filter="url(#bl2)"/>
<ellipse cx="138.75" cy="347.45" rx="2.09" ry="2.02" fill="#777" opacity="0.22" filter="url(#bl2)"/>
<ellipse cx="189.36" cy="348.76" rx="2.41" ry="2.08" fill="#777" opacity="0.18" filter="url(#bl2)"/>
<ellipse cx="162.49" cy="341.91" rx="2.31" ry="1.46" fill="#777" opacity="0.13" filter="url(#bl2)"/>
<ellipse cx="199.16" cy="348.6" rx="2.75" ry="2.1" fill="#777" opacity="0.13" filter="url(#bl2)"/>
<ellipse cx="134.42" cy="341.72" rx="3.06" ry="2.76" fill="#777" opacity="0.13" filter="url(#bl2)"/>
<ellipse cx="184.59" cy="346.75" rx="2.89" ry="2.4" fill="#777" opacity="0.19" filter="url(#bl2)"/>
<ellipse cx="154.17" cy="346.04" rx="2.06" ry="2.07" fill="#777" opacity="0.19" filter="url(#bl2)"/>
<ellipse cx="177.74" cy="341.94" rx="3.39" ry="2.37" fill="#777" opacity="0.16" filter="url(#bl2)"/>
<ellipse cx="128.83" cy="344.47" rx="2" ry="2.41" fill="#777" opacity="0.14" filter="url(#bl2)"/>
<ellipse cx="186.8" cy="345.47" rx="3.1" ry="1.83" fill="#777" opacity="0.17" filter="url(#bl2)"/>
<ellipse cx="181.12" cy="347.28" rx="2.2" ry="2.72" fill="#777" opacity="0.2" filter="url(#bl2)"/>
<ellipse cx="177.56" cy="348.76" rx="3.41" ry="2.13" fill="#777" opacity="0.15" filter="url(#bl2)"/>
<ellipse cx="139.96" cy="347.37" rx="3.37" ry="2.06" fill="#777" opacity="0.18" filter="url(#bl2)"/>
<ellipse cx="179.82" cy="346.3" rx="1.84" ry="2.6" fill="#777" opacity="0.16" filter="url(#bl2)"/>
<ellipse cx="175.92" cy="343.21" rx="2.75" ry="2.59" fill="#777" opacity="0.17" filter="url(#bl2)"/>
<ellipse cx="179.87" cy="339.28" rx="1.82" ry="1.99" fill="#777" opacity="0.17" filter="url(#bl2)"/>
<text transform="translate(333.8 333.8) rotate(-90) scale(0.89 1)" font-size="8.6" fill="#111" stroke="#111" stroke-width="0.22">GFP Control</text>
<text transform="translate(341.4 333.8) rotate(-90) scale(0.89 1)" font-size="8.6" fill="#111" stroke="#111" stroke-width="0.22">PRNA</text>
<text transform="translate(349 333.8) rotate(-90) scale(0.89 1)" font-size="8.6" fill="#111" stroke="#111" stroke-width="0.22">PRN+NeuroD1</text>
<text transform="translate(356.4 333.8) rotate(-90) scale(0.89 1)" font-size="8.6" fill="#111" stroke="#111" stroke-width="0.22">PRNA+NeuroD1</text>
<defs><linearGradient id="gE1" x1="0" x2="1"><stop offset="0" stop-color="#c4c4c4"/><stop offset="1" stop-color="#9a9a9a"/></linearGradient><linearGradient id="gE2" x1="0" x2="1"><stop offset="0" stop-color="#d0d0d0"/><stop offset="1" stop-color="#ececec"/></linearGradient><linearGradient id="gE3" x1="0" x2="1"><stop offset="0" stop-color="#eeeeee"/><stop offset="1" stop-color="#d4d4d4"/></linearGradient></defs>
<rect x="326.2" y="338.5" width="32.3" height="11.6" fill="url(#gE1)" stroke="#222" stroke-width="1.5"/>
<g opacity="0.32" filter="url(#bl)" fill="#0a0a0a"><ellipse cx="337.7" cy="344.6" rx="1.65" ry="2.54"/><ellipse cx="339.9" cy="344.6" rx="1.65" ry="2.54"/><rect x="337.15" y="343.18" width="3.3" height="2.85"/></g>
<g opacity="1" filter="url(#bl)" fill="#0a0a0a"><ellipse cx="344.72" cy="344.6" rx="1.92" ry="4.77"/><ellipse cx="347.28" cy="344.6" rx="1.92" ry="4.77"/><rect x="344.08" y="341.93" width="3.84" height="5.34"/></g>
<g opacity="1" filter="url(#bl)" fill="#0a0a0a"><ellipse cx="351.92" cy="344.6" rx="1.92" ry="4.77"/><ellipse cx="354.48" cy="344.6" rx="1.92" ry="4.77"/><rect x="351.28" y="341.93" width="3.84" height="5.34"/></g>
<text x="360.8" y="347.5" font-size="8" fill="#111" stroke="#111" stroke-width="0.22">CEACAM5</text>
<rect x="326.2" y="352.11" width="32.3" height="11.6" fill="#f4f4f4" stroke="#222" stroke-width="1.5"/>
<g opacity="0.06" filter="url(#bl)" fill="#0a0a0a"><ellipse cx="330.56" cy="358.21" rx="1.56" ry="1.86"/><ellipse cx="332.64" cy="358.21" rx="1.56" ry="1.86"/><rect x="330.04" y="357.17" width="3.12" height="2.09"/></g>
<g opacity="0.32" filter="url(#bl)" fill="#0a0a0a"><ellipse cx="337.7" cy="358.21" rx="1.65" ry="2.43"/><ellipse cx="339.9" cy="358.21" rx="1.65" ry="2.43"/><rect x="337.15" y="356.85" width="3.3" height="2.72"/></g>
<g opacity="1" filter="url(#bl)" fill="#0a0a0a"><ellipse cx="344.72" cy="358.21" rx="1.92" ry="4.56"/><ellipse cx="347.28" cy="358.21" rx="1.92" ry="4.56"/><rect x="344.08" y="355.66" width="3.84" height="5.1"/></g>
<g opacity="1" filter="url(#bl)" fill="#0a0a0a"><ellipse cx="351.92" cy="358.21" rx="1.92" ry="4.56"/><ellipse cx="354.48" cy="358.21" rx="1.92" ry="4.56"/><rect x="351.28" y="355.66" width="3.84" height="5.1"/></g>
<text x="360.8" y="361.11" font-size="8" fill="#111" stroke="#111" stroke-width="0.22">SYP</text>
<rect x="326.2" y="365.72" width="32.3" height="11.6" fill="#fbfbfb" stroke="#222" stroke-width="1.5"/>
<g opacity="0.73" filter="url(#bl)" fill="#0a0a0a"><ellipse cx="337.6" cy="371.82" rx="1.8" ry="1.02"/><ellipse cx="340" cy="371.82" rx="1.8" ry="1.02"/><rect x="337" y="371.25" width="3.61" height="1.14"/></g>
<g opacity="0.73" filter="url(#bl)" fill="#0a0a0a"><ellipse cx="344.8" cy="371.82" rx="1.8" ry="1.02"/><ellipse cx="347.2" cy="371.82" rx="1.8" ry="1.02"/><rect x="344.2" y="371.25" width="3.61" height="1.14"/></g>
<g opacity="1" filter="url(#bl)" fill="#0a0a0a"><ellipse cx="351.93" cy="371.82" rx="1.9" ry="1.2"/><ellipse cx="354.47" cy="371.82" rx="1.9" ry="1.2"/><rect x="351.3" y="371.15" width="3.8" height="1.34"/></g>
<text x="360.8" y="374.72" font-size="8" fill="#111" stroke="#111" stroke-width="0.22">INSM1</text>
<rect x="326.2" y="379.33" width="32.3" height="11.6" fill="#fbfbfb" stroke="#222" stroke-width="1.5"/>
<g opacity="0.63" filter="url(#bl)" fill="#0a0a0a"><ellipse cx="330.42" cy="385.43" rx="1.77" ry="0.88"/><ellipse cx="332.78" cy="385.43" rx="1.77" ry="0.88"/><rect x="329.83" y="384.94" width="3.53" height="0.98"/></g>
<g opacity="0.11" filter="url(#bl)" fill="#0a0a0a"><ellipse cx="337.75" cy="385.43" rx="1.57" ry="0.55"/><ellipse cx="339.85" cy="385.43" rx="1.57" ry="0.55"/><rect x="337.23" y="385.12" width="3.15" height="0.61"/></g>
<g opacity="0.11" filter="url(#bl)" fill="#0a0a0a"><ellipse cx="344.95" cy="385.43" rx="1.57" ry="0.55"/><ellipse cx="347.05" cy="385.43" rx="1.57" ry="0.55"/><rect x="344.43" y="385.12" width="3.15" height="0.61"/></g>
<g opacity="0.11" filter="url(#bl)" fill="#0a0a0a"><ellipse cx="352.15" cy="385.43" rx="1.57" ry="0.55"/><ellipse cx="354.25" cy="385.43" rx="1.57" ry="0.55"/><rect x="351.63" y="385.12" width="3.15" height="0.61"/></g>
<text x="360.8" y="388.33" font-size="8" fill="#111" stroke="#111" stroke-width="0.22">AR</text>
<rect x="326.2" y="392.94" width="32.3" height="11.6" fill="#fbfbfb" stroke="#222" stroke-width="1.5"/>
<g opacity="0.95" filter="url(#bl)" fill="#0a0a0a"><ellipse cx="330.35" cy="399.04" rx="1.88" ry="1.16"/><ellipse cx="332.85" cy="399.04" rx="1.88" ry="1.16"/><rect x="329.72" y="398.39" width="3.76" height="1.3"/></g>
<g opacity="0.26" filter="url(#bl)" fill="#0a0a0a"><ellipse cx="337.71" cy="399.04" rx="1.63" ry="0.7"/><ellipse cx="339.89" cy="399.04" rx="1.63" ry="0.7"/><rect x="337.17" y="398.65" width="3.26" height="0.78"/></g>
<g opacity="0.95" filter="url(#bl)" fill="#0a0a0a"><ellipse cx="344.75" cy="399.04" rx="1.88" ry="1.16"/><ellipse cx="347.25" cy="399.04" rx="1.88" ry="1.16"/><rect x="344.12" y="398.39" width="3.76" height="1.3"/></g>
<g opacity="0.13" filter="url(#bl)" fill="#0a0a0a"><ellipse cx="352.15" cy="399.04" rx="1.58" ry="0.61"/><ellipse cx="354.25" cy="399.04" rx="1.58" ry="0.61"/><rect x="351.62" y="398.7" width="3.16" height="0.68"/></g>
<text x="360.8" y="401.94" font-size="8" fill="#111" stroke="#111" stroke-width="0.22">NKX3-1</text>
<rect x="326.2" y="406.55" width="32.3" height="11.6" fill="#fbfbfb" stroke="#222" stroke-width="1.5"/>
<g opacity="0.06" filter="url(#bl)" fill="#0a0a0a"><ellipse cx="330.56" cy="412.65" rx="1.56" ry="0.65"/><ellipse cx="332.64" cy="412.65" rx="1.56" ry="0.65"/><rect x="330.04" y="412.29" width="3.12" height="0.73"/></g>
<g opacity="1" filter="url(#bl)" fill="#0a0a0a"><ellipse cx="337.53" cy="412.65" rx="1.9" ry="1.38"/><ellipse cx="340.07" cy="412.65" rx="1.9" ry="1.38"/><rect x="336.9" y="411.88" width="3.8" height="1.55"/></g>
<g opacity="0.89" filter="url(#bl)" fill="#0a0a0a"><ellipse cx="344.76" cy="412.65" rx="1.86" ry="1.3"/><ellipse cx="347.24" cy="412.65" rx="1.86" ry="1.3"/><rect x="344.14" y="411.92" width="3.72" height="1.46"/></g>
<g opacity="0.95" filter="url(#bl)" fill="#0a0a0a"><ellipse cx="351.95" cy="412.65" rx="1.88" ry="1.34"/><ellipse cx="354.45" cy="412.65" rx="1.88" ry="1.34"/><rect x="351.32" y="411.9" width="3.76" height="1.5"/></g>
<text x="360.8" y="415.55" font-size="8" fill="#111" stroke="#111" stroke-width="0.22">p53</text>
<rect x="326.2" y="420.16" width="32.3" height="11.6" fill="url(#gE2)" stroke="#222" stroke-width="1.5"/>
<g opacity="0.73" filter="url(#bl)" fill="#0a0a0a"><ellipse cx="330.4" cy="426.26" rx="1.8" ry="1.18"/><ellipse cx="332.8" cy="426.26" rx="1.8" ry="1.18"/><rect x="329.8" y="425.6" width="3.61" height="1.32"/></g>
<g opacity="0.08" filter="url(#bl)" fill="#0a0a0a"><ellipse cx="337.76" cy="426.26" rx="1.57" ry="0.67"/><ellipse cx="339.84" cy="426.26" rx="1.57" ry="0.67"/><rect x="337.23" y="425.89" width="3.13" height="0.75"/></g>
<g opacity="0.08" filter="url(#bl)" fill="#0a0a0a"><ellipse cx="344.96" cy="426.26" rx="1.57" ry="0.67"/><ellipse cx="347.04" cy="426.26" rx="1.57" ry="0.67"/><rect x="344.43" y="425.89" width="3.13" height="0.75"/></g>
<g opacity="0.08" filter="url(#bl)" fill="#0a0a0a"><ellipse cx="352.16" cy="426.26" rx="1.57" ry="0.67"/><ellipse cx="354.24" cy="426.26" rx="1.57" ry="0.67"/><rect x="351.63" y="425.89" width="3.13" height="0.75"/></g>
<text x="360.8" y="429.16" font-size="8" fill="#111" stroke="#111" stroke-width="0.22">Rb1</text>
<rect x="326.2" y="433.77" width="32.3" height="11.6" fill="#fbfbfb" stroke="#222" stroke-width="1.5"/>
<g opacity="0.84" filter="url(#bl)" fill="#0a0a0a"><ellipse cx="337.57" cy="439.87" rx="1.84" ry="1.26"/><ellipse cx="340.03" cy="439.87" rx="1.84" ry="1.26"/><rect x="336.96" y="439.16" width="3.69" height="1.41"/></g>
<g opacity="0.89" filter="url(#bl)" fill="#0a0a0a"><ellipse cx="344.76" cy="439.87" rx="1.86" ry="1.3"/><ellipse cx="347.24" cy="439.87" rx="1.86" ry="1.3"/><rect x="344.14" y="439.14" width="3.72" height="1.46"/></g>
<g opacity="0.79" filter="url(#bl)" fill="#0a0a0a"><ellipse cx="351.98" cy="439.87" rx="1.82" ry="1.22"/><ellipse cx="354.42" cy="439.87" rx="1.82" ry="1.22"/><rect x="351.38" y="439.19" width="3.65" height="1.37"/></g>
<text x="360.8" y="442.77" font-size="8" fill="#111" stroke="#111" stroke-width="0.22">N-Myc</text>
<rect x="326.2" y="447.38" width="32.3" height="11.6" fill="#fbfbfb" stroke="#222" stroke-width="1.5"/>
<g opacity="1" filter="url(#bl)" fill="#0a0a0a"><ellipse cx="337.52" cy="453.48" rx="1.92" ry="1.71"/><ellipse cx="340.08" cy="453.48" rx="1.92" ry="1.71"/><rect x="336.88" y="452.52" width="3.84" height="1.92"/></g>
<g opacity="0.16" filter="url(#bl)" fill="#0a0a0a"><ellipse cx="344.94" cy="453.48" rx="1.59" ry="0.87"/><ellipse cx="347.06" cy="453.48" rx="1.59" ry="0.87"/><rect x="344.41" y="452.99" width="3.19" height="0.97"/></g>
<g opacity="1" filter="url(#bl)" fill="#0a0a0a"><ellipse cx="351.92" cy="453.48" rx="1.92" ry="1.71"/><ellipse cx="354.48" cy="453.48" rx="1.92" ry="1.71"/><rect x="351.28" y="452.52" width="3.84" height="1.92"/></g>
<text x="360.8" y="456.38" font-size="8" fill="#111" stroke="#111" stroke-width="0.22">ASCL1</text>
<rect x="326.2" y="460.99" width="32.3" height="11.6" fill="url(#gE3)" stroke="#222" stroke-width="1.5"/>
<g opacity="0.58" filter="url(#bl)" fill="#0a0a0a"><ellipse cx="344.84" cy="467.09" rx="1.75" ry="1.05"/><ellipse cx="347.16" cy="467.09" rx="1.75" ry="1.05"/><rect x="344.25" y="466.5" width="3.49" height="1.18"/></g>
<g opacity="0.63" filter="url(#bl)" fill="#0a0a0a"><ellipse cx="352.02" cy="467.09" rx="1.77" ry="1.09"/><ellipse cx="354.38" cy="467.09" rx="1.77" ry="1.09"/><rect x="351.43" y="466.48" width="3.53" height="1.23"/></g>
<text x="360.8" y="469.99" font-size="8" fill="#111" stroke="#111" stroke-width="0.22">NeuroD1</text>
<rect x="326.2" y="474.6" width="32.3" height="11.6" fill="#fbfbfb" stroke="#222" stroke-width="1.5"/>
<g opacity="1" filter="url(#bl)" fill="#0a0a0a"><ellipse cx="330.32" cy="480.7" rx="1.92" ry="1.52"/><ellipse cx="332.88" cy="480.7" rx="1.92" ry="1.52"/><rect x="329.68" y="479.85" width="3.84" height="1.7"/></g>
<g opacity="1" filter="url(#bl)" fill="#0a0a0a"><ellipse cx="337.52" cy="480.7" rx="1.92" ry="1.52"/><ellipse cx="340.08" cy="480.7" rx="1.92" ry="1.52"/><rect x="336.88" y="479.85" width="3.84" height="1.7"/></g>
<g opacity="1" filter="url(#bl)" fill="#0a0a0a"><ellipse cx="344.72" cy="480.7" rx="1.92" ry="1.52"/><ellipse cx="347.28" cy="480.7" rx="1.92" ry="1.52"/><rect x="344.08" y="479.85" width="3.84" height="1.7"/></g>
<g opacity="1" filter="url(#bl)" fill="#0a0a0a"><ellipse cx="351.92" cy="480.7" rx="1.92" ry="1.52"/><ellipse cx="354.48" cy="480.7" rx="1.92" ry="1.52"/><rect x="351.28" y="479.85" width="3.84" height="1.7"/></g>
<text x="360.8" y="483.6" font-size="8" fill="#111" stroke="#111" stroke-width="0.22">GAPDH</text>
<text transform="translate(437 333.8) rotate(-90) scale(0.89 1)" font-size="8.6" fill="#111" stroke="#111" stroke-width="0.22">GFP Control</text>
<text transform="translate(444.5 333.8) rotate(-90) scale(0.89 1)" font-size="8.6" fill="#111" stroke="#111" stroke-width="0.22">PRN</text>
<text transform="translate(452 333.8) rotate(-90) scale(0.89 1)" font-size="8.6" fill="#111" stroke="#111" stroke-width="0.22">PRN+ASCL1</text>
<text transform="translate(459.2 333.8) rotate(-90) scale(0.89 1)" font-size="8.6" fill="#111" stroke="#111" stroke-width="0.22">PRN+ASCL2</text>
<rect x="428.9" y="337" width="33.4" height="11.8" fill="#ececec" stroke="#222" stroke-width="1.5"/>
<text x="463.8" y="346.1" font-size="8" fill="#111" stroke="#111" stroke-width="0.22">CEACAM5</text>
<rect x="428.9" y="350.8" width="33.4" height="11.8" fill="#f2f2f2" stroke="#222" stroke-width="1.5"/>
<g opacity="0.04" filter="url(#bl)" fill="#0a0a0a"><ellipse cx="433.67" cy="357" rx="1.55" ry="1.18"/><ellipse cx="435.73" cy="357" rx="1.55" ry="1.18"/><rect x="433.15" y="356.34" width="3.1" height="1.32"/></g>
<g opacity="0.04" filter="url(#bl)" fill="#0a0a0a"><ellipse cx="441.12" cy="357" rx="1.55" ry="1.18"/><ellipse cx="443.18" cy="357" rx="1.55" ry="1.18"/><rect x="440.6" y="356.34" width="3.1" height="1.32"/></g>
<g opacity="1" filter="url(#bl)" fill="#0a0a0a"><ellipse cx="448.32" cy="357" rx="1.92" ry="2.89"/><ellipse cx="450.88" cy="357" rx="1.92" ry="2.89"/><rect x="447.68" y="355.38" width="3.84" height="3.24"/></g>
<g opacity="0.04" filter="url(#bl)" fill="#0a0a0a"><ellipse cx="456.02" cy="357" rx="1.55" ry="1.18"/><ellipse cx="458.08" cy="357" rx="1.55" ry="1.18"/><rect x="455.5" y="356.34" width="3.1" height="1.32"/></g>
<text x="463.8" y="359.9" font-size="8" fill="#111" stroke="#111" stroke-width="0.22">SYP</text>
<rect x="428.9" y="364.6" width="33.4" height="11.8" fill="#fbfbfb" stroke="#222" stroke-width="1.5"/>
<g opacity="0.95" filter="url(#bl)" fill="#0a0a0a"><ellipse cx="448.35" cy="370.8" rx="1.88" ry="1.16"/><ellipse cx="450.85" cy="370.8" rx="1.88" ry="1.16"/><rect x="447.72" y="370.15" width="3.76" height="1.3"/></g>
<text x="463.8" y="373.7" font-size="8" fill="#111" stroke="#111" stroke-width="0.22">INSM1</text>
<rect x="428.9" y="378.4" width="33.4" height="11.8" fill="#fbfbfb" stroke="#222" stroke-width="1.5"/>
<g opacity="0.89" filter="url(#bl)" fill="#0a0a0a"><ellipse cx="433.46" cy="384.6" rx="1.86" ry="1.21"/><ellipse cx="435.94" cy="384.6" rx="1.86" ry="1.21"/><rect x="432.84" y="383.92" width="3.72" height="1.36"/></g>
<g opacity="0.89" filter="url(#bl)" fill="#0a0a0a"><ellipse cx="440.91" cy="384.6" rx="1.86" ry="1.21"/><ellipse cx="443.39" cy="384.6" rx="1.86" ry="1.21"/><rect x="440.29" y="383.92" width="3.72" height="1.36"/></g>
<g opacity="0.16" filter="url(#bl)" fill="#0a0a0a"><ellipse cx="448.54" cy="384.6" rx="1.59" ry="0.68"/><ellipse cx="450.66" cy="384.6" rx="1.59" ry="0.68"/><rect x="448.01" y="384.22" width="3.19" height="0.76"/></g>
<g opacity="0.16" filter="url(#bl)" fill="#0a0a0a"><ellipse cx="455.99" cy="384.6" rx="1.59" ry="0.68"/><ellipse cx="458.11" cy="384.6" rx="1.59" ry="0.68"/><rect x="455.46" y="384.22" width="3.19" height="0.76"/></g>
<text x="463.8" y="387.5" font-size="8" fill="#111" stroke="#111" stroke-width="0.22">AR</text>
<rect x="428.9" y="392.2" width="33.4" height="11.8" fill="#fbfbfb" stroke="#222" stroke-width="1.5"/>
<g opacity="1" filter="url(#bl)" fill="#0a0a0a"><ellipse cx="433.43" cy="398.4" rx="1.9" ry="1.38"/><ellipse cx="435.97" cy="398.4" rx="1.9" ry="1.38"/><rect x="432.8" y="397.63" width="3.8" height="1.55"/></g>
<g opacity="1" filter="url(#bl)" fill="#0a0a0a"><ellipse cx="440.88" cy="398.4" rx="1.9" ry="1.38"/><ellipse cx="443.42" cy="398.4" rx="1.9" ry="1.38"/><rect x="440.25" y="397.63" width="3.8" height="1.55"/></g>
<g opacity="0.26" filter="url(#bl)" fill="#0a0a0a"><ellipse cx="448.51" cy="398.4" rx="1.63" ry="0.81"/><ellipse cx="450.69" cy="398.4" rx="1.63" ry="0.81"/><rect x="447.97" y="397.95" width="3.26" height="0.9"/></g>
<g opacity="0.21" filter="url(#bl)" fill="#0a0a0a"><ellipse cx="455.97" cy="398.4" rx="1.61" ry="0.77"/><ellipse cx="458.13" cy="398.4" rx="1.61" ry="0.77"/><rect x="455.44" y="397.97" width="3.23" height="0.86"/></g>
<text x="463.8" y="401.3" font-size="8" fill="#111" stroke="#111" stroke-width="0.22">NKX3-1</text>
<rect x="428.9" y="406" width="33.4" height="11.8" fill="#fbfbfb" stroke="#222" stroke-width="1.5"/>
<g opacity="0.16" filter="url(#bl)" fill="#0a0a0a"><ellipse cx="433.64" cy="412.2" rx="1.59" ry="0.77"/><ellipse cx="435.76" cy="412.2" rx="1.59" ry="0.77"/><rect x="433.11" y="411.77" width="3.19" height="0.86"/></g>
<g opacity="1" filter="url(#bl)" fill="#0a0a0a"><ellipse cx="440.87" cy="412.2" rx="1.92" ry="1.52"/><ellipse cx="443.43" cy="412.2" rx="1.92" ry="1.52"/><rect x="440.23" y="411.35" width="3.84" height="1.7"/></g>
<g opacity="1" filter="url(#bl)" fill="#0a0a0a"><ellipse cx="448.32" cy="412.2" rx="1.92" ry="1.52"/><ellipse cx="450.88" cy="412.2" rx="1.92" ry="1.52"/><rect x="447.68" y="411.35" width="3.84" height="1.7"/></g>
<g opacity="1" filter="url(#bl)" fill="#0a0a0a"><ellipse cx="455.78" cy="412.2" rx="1.9" ry="1.48"/><ellipse cx="458.32" cy="412.2" rx="1.9" ry="1.48"/><rect x="455.15" y="411.37" width="3.8" height="1.65"/></g>
<text x="463.8" y="415.1" font-size="8" fill="#111" stroke="#111" stroke-width="0.22">p53</text>
<rect x="428.9" y="419.8" width="33.4" height="11.8" fill="url(#gE2)" stroke="#222" stroke-width="1.5"/>
<g opacity="0.63" filter="url(#bl)" fill="#0a0a0a"><ellipse cx="433.52" cy="426" rx="1.77" ry="1.17"/><ellipse cx="435.88" cy="426" rx="1.77" ry="1.17"/><rect x="432.93" y="425.35" width="3.53" height="1.31"/></g>
<text x="463.8" y="428.9" font-size="8" fill="#111" stroke="#111" stroke-width="0.22">Rb1</text>
<rect x="428.9" y="433.6" width="33.4" height="11.8" fill="#fbfbfb" stroke="#222" stroke-width="1.5"/>
<g opacity="0.84" filter="url(#bl)" fill="#0a0a0a"><ellipse cx="440.92" cy="439.8" rx="1.84" ry="1.34"/><ellipse cx="443.38" cy="439.8" rx="1.84" ry="1.34"/><rect x="440.31" y="439.05" width="3.69" height="1.51"/></g>
<g opacity="0.26" filter="url(#bl)" fill="#0a0a0a"><ellipse cx="448.51" cy="439.8" rx="1.63" ry="0.86"/><ellipse cx="450.69" cy="439.8" rx="1.63" ry="0.86"/><rect x="447.97" y="439.32" width="3.26" height="0.96"/></g>
<g opacity="0.21" filter="url(#bl)" fill="#0a0a0a"><ellipse cx="455.97" cy="439.8" rx="1.61" ry="0.82"/><ellipse cx="458.13" cy="439.8" rx="1.61" ry="0.82"/><rect x="455.44" y="439.34" width="3.23" height="0.91"/></g>
<text x="463.8" y="442.7" font-size="8" fill="#111" stroke="#111" stroke-width="0.22">N-Myc</text>
<rect x="428.9" y="447.4" width="33.4" height="11.8" fill="#fbfbfb" stroke="#222" stroke-width="1.5"/>
<g opacity="1" filter="url(#bl)" fill="#0a0a0a"><ellipse cx="448.33" cy="453.6" rx="1.9" ry="1.48"/><ellipse cx="450.87" cy="453.6" rx="1.9" ry="1.48"/><rect x="447.7" y="452.77" width="3.8" height="1.65"/></g>
<text x="463.8" y="456.5" font-size="8" fill="#111" stroke="#111" stroke-width="0.22">ASCL1</text>
<rect x="428.9" y="461.2" width="33.4" height="11.8" fill="#fbfbfb" stroke="#222" stroke-width="1.5"/>
<g opacity="0.04" filter="url(#bl)" fill="#0a0a0a"><ellipse cx="448.57" cy="467.4" rx="1.55" ry="0.68"/><ellipse cx="450.63" cy="467.4" rx="1.55" ry="0.68"/><rect x="448.05" y="467.02" width="3.1" height="0.76"/></g>
<g opacity="0.95" filter="url(#bl)" fill="#0a0a0a"><ellipse cx="455.8" cy="467.4" rx="1.88" ry="1.43"/><ellipse cx="458.3" cy="467.4" rx="1.88" ry="1.43"/><rect x="455.17" y="466.6" width="3.76" height="1.6"/></g>
<text x="463.8" y="470.3" font-size="8" fill="#111" stroke="#111" stroke-width="0.22">ASCL2</text>
<rect x="428.9" y="475" width="33.4" height="11.8" fill="#fbfbfb" stroke="#222" stroke-width="1.5"/>
<g opacity="1" filter="url(#bl)" fill="#0a0a0a"><ellipse cx="433.42" cy="481.2" rx="1.92" ry="1.52"/><ellipse cx="435.98" cy="481.2" rx="1.92" ry="1.52"/><rect x="432.78" y="480.35" width="3.84" height="1.7"/></g>
<g opacity="1" filter="url(#bl)" fill="#0a0a0a"><ellipse cx="440.87" cy="481.2" rx="1.92" ry="1.52"/><ellipse cx="443.43" cy="481.2" rx="1.92" ry="1.52"/><rect x="440.23" y="480.35" width="3.84" height="1.7"/></g>
<g opacity="1" filter="url(#bl)" fill="#0a0a0a"><ellipse cx="448.32" cy="481.2" rx="1.92" ry="1.52"/><ellipse cx="450.88" cy="481.2" rx="1.92" ry="1.52"/><rect x="447.68" y="480.35" width="3.84" height="1.7"/></g>
<g opacity="1" filter="url(#bl)" fill="#0a0a0a"><ellipse cx="455.77" cy="481.2" rx="1.92" ry="1.52"/><ellipse cx="458.33" cy="481.2" rx="1.92" ry="1.52"/><rect x="455.13" y="480.35" width="3.84" height="1.7"/></g>
<text x="463.8" y="484.1" font-size="8" fill="#111" stroke="#111" stroke-width="0.22">GAPDH</text>
<rect x="447.3" y="338.2" width="1.6" height="8" fill="#444" opacity="0.5" filter="url(#bl)"/>
<rect x="450.4" y="338.2" width="1.4" height="7" fill="#444" opacity="0.4" filter="url(#bl)"/>
<rect x="446" y="341" width="7" height="4" fill="#666" opacity="0.2" filter="url(#bl2)"/>
<rect x="454.8" y="338.2" width="1.6" height="8" fill="#444" opacity="0.25" filter="url(#bl)"/>
<rect x="457.9" y="338.2" width="1.4" height="7" fill="#444" opacity="0.2" filter="url(#bl)"/>
<rect x="453.5" y="341" width="7" height="4" fill="#666" opacity="0.1" filter="url(#bl2)"/>
<line x1="51.4" y1="510.6" x2="51.4" y2="608.2" stroke="#111" stroke-width="1.4"/>
<line x1="48.8" y1="608.2" x2="197.8" y2="608.2" stroke="#111" stroke-width="1.4"/>
<line x1="48.5" y1="608.2" x2="51.4" y2="608.2" stroke="#111" stroke-width="1.2"/>
<text x="47.4" y="611.1" font-size="8.2" text-anchor="end" fill="#111" stroke="#111" stroke-width="0.22">0</text>
<line x1="48.5" y1="583.95" x2="51.4" y2="583.95" stroke="#111" stroke-width="1.2"/>
<text x="47.4" y="586.85" font-size="8.2" text-anchor="end" fill="#111" stroke="#111" stroke-width="0.22">10</text>
<line x1="48.5" y1="559.7" x2="51.4" y2="559.7" stroke="#111" stroke-width="1.2"/>
<text x="47.4" y="562.6" font-size="8.2" text-anchor="end" fill="#111" stroke="#111" stroke-width="0.22">20</text>
<line x1="48.5" y1="535.45" x2="51.4" y2="535.45" stroke="#111" stroke-width="1.2"/>
<text x="47.4" y="538.35" font-size="8.2" text-anchor="end" fill="#111" stroke="#111" stroke-width="0.22">30</text>
<line x1="48.5" y1="511.2" x2="51.4" y2="511.2" stroke="#111" stroke-width="1.2"/>
<text x="47.4" y="514.1" font-size="8.2" text-anchor="end" fill="#111" stroke="#111" stroke-width="0.22">40</text>
<text transform="translate(24 559.3) rotate(-90)" font-size="9.7" text-anchor="middle" fill="#111" stroke="#111" stroke-width="0.22">Fold change</text>
<text transform="translate(34.6 558.9) rotate(-90)" font-size="9.7" text-anchor="middle" fill="#111" stroke="#111" stroke-width="0.22">nomalized to AK5</text>
<rect x="57.8" y="606.26" width="12.4" height="1.94" fill="#111"/>
<line x1="83.4" y1="539.57" x2="83.4" y2="550" stroke="#111" stroke-width="1.6"/>
<line x1="80.4" y1="539.57" x2="86.3" y2="539.57" stroke="#111" stroke-width="1.7"/>
<rect x="77" y="550" width="12.8" height="58.2" fill="#9c9c9c" stroke="#222" stroke-width="0.9"/>
<line x1="73.3" y1="608.2" x2="73.3" y2="612" stroke="#111" stroke-width="1.1"/>
<path d="M63.6 522.2 L63.6 520.3 L82.8 520.3 L82.8 522.2" stroke="#111" stroke-width="1" fill="none"/>
<text x="73.4" y="521.3" font-size="8.6" text-anchor="middle" fill="#111" stroke="#111" stroke-width="0.22">*</text>
<g transform="translate(70.4 633.8) rotate(-53)" font-size="9.15" fill="#111" stroke="#111" stroke-width="0.1" text-anchor="middle"><text x="0" y="0">CEACAM5</text><text x="0" y="10.1">Primer set-1</text></g>
<rect x="108.1" y="606.26" width="12.4" height="1.94" fill="#111"/>
<line x1="133.7" y1="528.18" x2="133.7" y2="535.45" stroke="#111" stroke-width="1.6"/>
<line x1="130.7" y1="528.18" x2="136.6" y2="528.18" stroke="#111" stroke-width="1.7"/>
<rect x="127.3" y="535.45" width="12.8" height="72.75" fill="#9c9c9c" stroke="#222" stroke-width="0.9"/>
<line x1="123.6" y1="608.2" x2="123.6" y2="612" stroke="#111" stroke-width="1.1"/>
<path d="M113.9 522.2 L113.9 520.3 L133.1 520.3 L133.1 522.2" stroke="#111" stroke-width="1" fill="none"/>
<text x="123.7" y="521.3" font-size="8.6" text-anchor="middle" fill="#111" stroke="#111" stroke-width="0.22">*</text>
<g transform="translate(120.7 633.8) rotate(-53)" font-size="9.15" fill="#111" stroke="#111" stroke-width="0.1" text-anchor="middle"><text x="0" y="0">CEACAM5</text><text x="0" y="10.1">Primer set-2</text></g>
<rect x="158.4" y="606.26" width="12.4" height="1.94" fill="#111"/>
<line x1="184" y1="552.43" x2="184" y2="554.85" stroke="#111" stroke-width="1.6"/>
<line x1="181" y1="552.43" x2="186.9" y2="552.43" stroke="#111" stroke-width="1.7"/>
<rect x="177.6" y="554.85" width="12.8" height="53.35" fill="#9c9c9c" stroke="#222" stroke-width="0.9"/>
<line x1="173.9" y1="608.2" x2="173.9" y2="612" stroke="#111" stroke-width="1.1"/>
<path d="M164.2 522.2 L164.2 520.3 L183.4 520.3 L183.4 522.2" stroke="#111" stroke-width="1" fill="none"/>
<text x="174" y="521.3" font-size="8.6" text-anchor="middle" fill="#111" stroke="#111" stroke-width="0.22">*</text>
<g transform="translate(171 633.8) rotate(-53)" font-size="9.15" fill="#111" stroke="#111" stroke-width="0.1" text-anchor="middle"><text x="0" y="0">CEACAM5</text><text x="0" y="10.1">Primer set-3</text></g>
<rect x="194" y="518.8" width="10.2" height="5.5" fill="#111"/>
<rect x="194.3" y="531.6" width="9.7" height="5" fill="#9c9c9c" stroke="#222" stroke-width="0.8"/>
<text x="206.4" y="524.1" font-size="7.9" fill="#111" stroke="#111" stroke-width="0.22">MSKCC EF1</text>
<text x="206.4" y="536.6" font-size="7.9" fill="#111" stroke="#111" stroke-width="0.22">NCI-H660</text>
<line x1="311.2" y1="510.6" x2="311.2" y2="605.7" stroke="#111" stroke-width="1.4"/>
<line x1="308.4" y1="605.7" x2="453.2" y2="605.7" stroke="#111" stroke-width="1.4"/>
<line x1="308.2" y1="605.7" x2="311.2" y2="605.7" stroke="#111" stroke-width="1.2"/>
<text x="306.8" y="608.6" font-size="8.2" text-anchor="end" fill="#111" stroke="#111" stroke-width="0.22">0</text>
<line x1="308.2" y1="586.8" x2="311.2" y2="586.8" stroke="#111" stroke-width="1.2"/>
<text x="306.8" y="589.7" font-size="8.2" text-anchor="end" fill="#111" stroke="#111" stroke-width="0.22">2</text>
<line x1="308.2" y1="567.9" x2="311.2" y2="567.9" stroke="#111" stroke-width="1.2"/>
<text x="306.8" y="570.8" font-size="8.2" text-anchor="end" fill="#111" stroke="#111" stroke-width="0.22">4</text>
<line x1="308.2" y1="549" x2="311.2" y2="549" stroke="#111" stroke-width="1.2"/>
<text x="306.8" y="551.9" font-size="8.2" text-anchor="end" fill="#111" stroke="#111" stroke-width="0.22">6</text>
<line x1="308.2" y1="530.1" x2="311.2" y2="530.1" stroke="#111" stroke-width="1.2"/>
<text x="306.8" y="533" font-size="8.2" text-anchor="end" fill="#111" stroke="#111" stroke-width="0.22">8</text>
<line x1="308.2" y1="511.2" x2="311.2" y2="511.2" stroke="#111" stroke-width="1.2"/>
<text x="306.8" y="514.1" font-size="8.2" text-anchor="end" fill="#111" stroke="#111" stroke-width="0.22">10</text>
<text transform="translate(285.6 561.2) rotate(-90)" font-size="9.7" text-anchor="middle" fill="#111" stroke="#111" stroke-width="0.22">Fold change</text>
<text transform="translate(296.4 560.2) rotate(-90)" font-size="9.7" text-anchor="middle" fill="#111" stroke="#111" stroke-width="0.22">nomalized to AK5</text>
<rect x="313.7" y="596.25" width="5.4" height="9.45" fill="#111" stroke="#1a1a1a" stroke-width="0.8"/>
<line x1="324.95" y1="587.75" x2="324.95" y2="596.25" stroke="#111" stroke-width="1.4"/>
<line x1="322.95" y1="587.75" x2="326.95" y2="587.75" stroke="#111" stroke-width="1.5"/>
<rect x="322.25" y="596.25" width="5.4" height="9.45" fill="#6e6e6e" stroke="#1a1a1a" stroke-width="0.8"/>
<line x1="333.5" y1="538.61" x2="333.5" y2="556.56" stroke="#111" stroke-width="1.4"/>
<line x1="331.5" y1="538.61" x2="335.5" y2="538.61" stroke="#111" stroke-width="1.5"/>
<rect x="330.8" y="556.56" width="5.4" height="49.14" fill="url(#chk)" stroke="#1a1a1a" stroke-width="0.8"/>
<line x1="342.05" y1="590.58" x2="342.05" y2="595.78" stroke="#111" stroke-width="1.4"/>
<line x1="340.05" y1="590.58" x2="344.05" y2="590.58" stroke="#111" stroke-width="1.5"/>
<rect x="339.35" y="595.78" width="5.4" height="9.92" fill="#e4e4e4" stroke="#1a1a1a" stroke-width="0.8"/>
<line x1="350.6" y1="582.08" x2="350.6" y2="587.75" stroke="#111" stroke-width="1.4"/>
<line x1="348.6" y1="582.08" x2="352.6" y2="582.08" stroke="#111" stroke-width="1.5"/>
<rect x="347.9" y="587.75" width="5.4" height="17.96" fill="url(#hatch)" stroke="#1a1a1a" stroke-width="0.8"/>
<line x1="333.5" y1="605.7" x2="333.5" y2="609.5" stroke="#111" stroke-width="1.1"/>
<g transform="translate(330.6 631.3) rotate(-53)" font-size="9.15" fill="#111" stroke="#111" stroke-width="0.1" text-anchor="middle"><text x="0" y="0">CEACAM5</text><text x="0" y="10.1">Primer set-1</text></g>
<rect x="361.6" y="596.25" width="5.4" height="9.45" fill="#111" stroke="#1a1a1a" stroke-width="0.8"/>
<line x1="372.85" y1="585.86" x2="372.85" y2="595.31" stroke="#111" stroke-width="1.4"/>
<line x1="370.85" y1="585.86" x2="374.85" y2="585.86" stroke="#111" stroke-width="1.5"/>
<rect x="370.15" y="595.31" width="5.4" height="10.39" fill="#6e6e6e" stroke="#1a1a1a" stroke-width="0.8"/>
<line x1="381.4" y1="523.49" x2="381.4" y2="550.89" stroke="#111" stroke-width="1.4"/>
<line x1="379.4" y1="523.49" x2="383.4" y2="523.49" stroke="#111" stroke-width="1.5"/>
<rect x="378.7" y="550.89" width="5.4" height="54.81" fill="url(#chk)" stroke="#1a1a1a" stroke-width="0.8"/>
<line x1="389.95" y1="591.53" x2="389.95" y2="596.25" stroke="#111" stroke-width="1.4"/>
<line x1="387.95" y1="591.53" x2="391.95" y2="591.53" stroke="#111" stroke-width="1.5"/>
<rect x="387.25" y="596.25" width="5.4" height="9.45" fill="#e4e4e4" stroke="#1a1a1a" stroke-width="0.8"/>
<line x1="398.5" y1="583.97" x2="398.5" y2="588.69" stroke="#111" stroke-width="1.4"/>
<line x1="396.5" y1="583.97" x2="400.5" y2="583.97" stroke="#111" stroke-width="1.5"/>
<rect x="395.8" y="588.69" width="5.4" height="17.01" fill="url(#hatch)" stroke="#1a1a1a" stroke-width="0.8"/>
<line x1="381.4" y1="605.7" x2="381.4" y2="609.5" stroke="#111" stroke-width="1.1"/>
<g transform="translate(378.5 631.3) rotate(-53)" font-size="9.15" fill="#111" stroke="#111" stroke-width="0.1" text-anchor="middle"><text x="0" y="0">CEACAM5</text><text x="0" y="10.1">Primer set-2</text></g>
<rect x="409.5" y="596.25" width="5.4" height="9.45" fill="#111" stroke="#1a1a1a" stroke-width="0.8"/>
<line x1="420.75" y1="589.63" x2="420.75" y2="596.72" stroke="#111" stroke-width="1.4"/>
<line x1="418.75" y1="589.63" x2="422.75" y2="589.63" stroke="#111" stroke-width="1.5"/>
<rect x="418.05" y="596.72" width="5.4" height="8.98" fill="#6e6e6e" stroke="#1a1a1a" stroke-width="0.8"/>
<line x1="429.3" y1="546.17" x2="429.3" y2="559.4" stroke="#111" stroke-width="1.4"/>
<line x1="427.3" y1="546.17" x2="431.3" y2="546.17" stroke="#111" stroke-width="1.5"/>
<rect x="426.6" y="559.4" width="5.4" height="46.3" fill="url(#chk)" stroke="#1a1a1a" stroke-width="0.8"/>
<line x1="437.85" y1="592.47" x2="437.85" y2="596.25" stroke="#111" stroke-width="1.4"/>
<line x1="435.85" y1="592.47" x2="439.85" y2="592.47" stroke="#111" stroke-width="1.5"/>
<rect x="435.15" y="596.25" width="5.4" height="9.45" fill="#e4e4e4" stroke="#1a1a1a" stroke-width="0.8"/>
<line x1="446.4" y1="583.02" x2="446.4" y2="588.69" stroke="#111" stroke-width="1.4"/>
<line x1="444.4" y1="583.02" x2="448.4" y2="583.02" stroke="#111" stroke-width="1.5"/>
<rect x="443.7" y="588.69" width="5.4" height="17.01" fill="url(#hatch)" stroke="#1a1a1a" stroke-width="0.8"/>
<line x1="429.3" y1="605.7" x2="429.3" y2="609.5" stroke="#111" stroke-width="1.1"/>
<g transform="translate(426.4 631.3) rotate(-53)" font-size="9.15" fill="#111" stroke="#111" stroke-width="0.1" text-anchor="middle"><text x="0" y="0">CEACAM5</text><text x="0" y="10.1">Primer set-3</text></g>
<path d="M314.8 520.6 L314.8 519 L332.7 519 L332.7 520.6" stroke="#111" stroke-width="1" fill="none"/>
<text x="323.7" y="519.85" font-size="8.6" text-anchor="middle" fill="#111" stroke="#111" stroke-width="0.22">*</text>
<path d="M362.7 520.6 L362.7 519 L380.6 519 L380.6 520.6" stroke="#111" stroke-width="1" fill="none"/>
<text x="371.6" y="519.85" font-size="8.6" text-anchor="middle" fill="#111" stroke="#111" stroke-width="0.22">*</text>
<path d="M411.2 520.1 L411.2 518.5 L429.8 518.5 L429.8 520.1" stroke="#111" stroke-width="1" fill="none"/>
<text x="421" y="519.85" font-size="8.6" text-anchor="middle" fill="#111" stroke="#111" stroke-width="0.22">*</text>
<path d="M420.6 526.9 L420.6 525.3 L429.8 525.3 L429.8 526.9" stroke="#111" stroke-width="1" fill="none"/>
<text x="425.2" y="526.05" font-size="8.6" text-anchor="middle" fill="#111" stroke="#111" stroke-width="0.22">*</text>
<rect x="456.9" y="518.1" width="10.4" height="5.4" fill="#111" stroke="#1a1a1a" stroke-width="0.8"/>
<text x="468.9" y="523.4" font-size="7.9" fill="#111" stroke="#111" stroke-width="0.22">GFP</text>
<rect x="456.9" y="531.1" width="10.4" height="5.4" fill="#6e6e6e" stroke="#1a1a1a" stroke-width="0.8"/>
<text x="468.9" y="536.4" font-size="7.9" fill="#111" stroke="#111" stroke-width="0.22">PRN</text>
<rect x="456.9" y="544.1" width="10.4" height="5.4" fill="url(#chk)" stroke="#1a1a1a" stroke-width="0.8"/>
<text x="468.9" y="549.4" font-size="7.9" fill="#111" stroke="#111" stroke-width="0.22">PRN ASCL1</text>
<rect x="456.9" y="557.1" width="10.4" height="5.4" fill="#e4e4e4" stroke="#1a1a1a" stroke-width="0.8"/>
<text x="468.9" y="562.4" font-size="7.9" fill="#111" stroke="#111" stroke-width="0.22">PRN ASCL2</text>
<rect x="456.9" y="570.1" width="10.4" height="5.4" fill="url(#hatch)" stroke="#1a1a1a" stroke-width="0.8"/>
<text x="468.9" y="575.4" font-size="7.9" fill="#111" stroke="#111" stroke-width="0.22">PRN NeuroD1</text>
</svg></body></html>
